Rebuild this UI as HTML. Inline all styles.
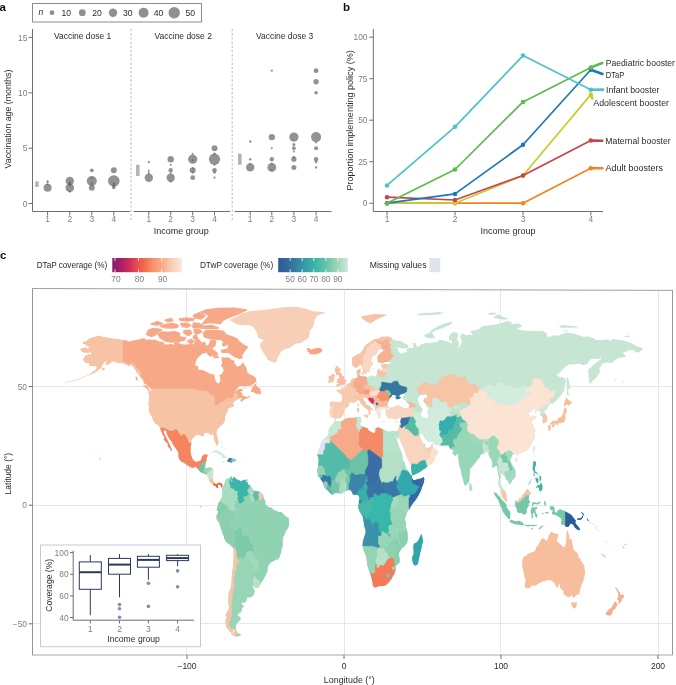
<!DOCTYPE html>
<html lang="en"><head><meta charset="utf-8"><title>Figure</title>
<style>
html,body{margin:0;padding:0;background:#fff;}
body{width:676px;height:685px;overflow:hidden;}
svg{display:block;font-family:"Liberation Sans", Arial, Helvetica, sans-serif;}
.t{font-size:8.4px;fill:#7e7e7e;}
.l{font-size:8.6px;fill:#2b2b2b;}
.pl{font-size:11.5px;font-weight:bold;fill:#111;}
.pt{fill:#5e5e5e;fill-opacity:0.68;}
</style></head><body>
<svg width="676" height="685" viewBox="0 0 676 685">
<rect width="676" height="685" fill="#fff"/>

<g id="panel-a">
<text class="pl" x="-0.5" y="10.5">a</text>
<rect x="32.5" y="3.5" width="169" height="18.5" fill="#fff" stroke="#8c8c8c" stroke-width="1"/>
<text class="l" x="38.5" y="15.4" font-style="italic">n</text>
<circle cx="52" cy="12.7" r="2.4" fill="#909090"/>
<text class="l" x="61.5" y="15.6">10</text>
<circle cx="82.3" cy="12.7" r="3.4" fill="#909090"/>
<text class="l" x="92.2" y="15.6">20</text>
<circle cx="113" cy="12.7" r="4.2" fill="#909090"/>
<text class="l" x="123" y="15.6">30</text>
<circle cx="143.6" cy="12.7" r="5.0" fill="#909090"/>
<text class="l" x="153.8" y="15.6">40</text>
<circle cx="174.2" cy="12.7" r="5.7" fill="#909090"/>
<text class="l" x="185.5" y="15.6">50</text>
<path d="M32.5 29V211.5H130" fill="none" stroke="#6e6e6e" stroke-width="1"/>
<path d="M133.5 211.5H230.2M234.7 211.5H331.5" fill="none" stroke="#6e6e6e" stroke-width="1"/>
<path d="M28.5 203.5H32.5" stroke="#6e6e6e" stroke-width="1"/>
<text class="t" x="27.3" y="206.6" text-anchor="end">0</text>
<path d="M28.5 148.2H32.5" stroke="#6e6e6e" stroke-width="1"/>
<text class="t" x="27.3" y="151.2" text-anchor="end">5</text>
<path d="M28.5 92.8H32.5" stroke="#6e6e6e" stroke-width="1"/>
<text class="t" x="27.3" y="95.8" text-anchor="end">10</text>
<path d="M28.5 37.4H32.5" stroke="#6e6e6e" stroke-width="1"/>
<text class="t" x="27.3" y="40.5" text-anchor="end">15</text>
<path d="M131 29V222" stroke="#b0b0b0" stroke-width="0.9" stroke-dasharray="2.2 2"/>
<path d="M232.2 29V222" stroke="#b0b0b0" stroke-width="0.9" stroke-dasharray="2.2 2"/>
<path d="M47.6 211.5V215.5" stroke="#6e6e6e" stroke-width="1"/>
<text class="t" x="47.6" y="222.3" text-anchor="middle">1</text>
<path d="M69.8 211.5V215.5" stroke="#6e6e6e" stroke-width="1"/>
<text class="t" x="69.8" y="222.3" text-anchor="middle">2</text>
<path d="M91.8 211.5V215.5" stroke="#6e6e6e" stroke-width="1"/>
<text class="t" x="91.8" y="222.3" text-anchor="middle">3</text>
<path d="M113.8 211.5V215.5" stroke="#6e6e6e" stroke-width="1"/>
<text class="t" x="113.8" y="222.3" text-anchor="middle">4</text>
<path d="M148.8 211.5V215.5" stroke="#6e6e6e" stroke-width="1"/>
<text class="t" x="148.8" y="222.3" text-anchor="middle">1</text>
<path d="M170.7 211.5V215.5" stroke="#6e6e6e" stroke-width="1"/>
<text class="t" x="170.7" y="222.3" text-anchor="middle">2</text>
<path d="M192.7 211.5V215.5" stroke="#6e6e6e" stroke-width="1"/>
<text class="t" x="192.7" y="222.3" text-anchor="middle">3</text>
<path d="M214.5 211.5V215.5" stroke="#6e6e6e" stroke-width="1"/>
<text class="t" x="214.5" y="222.3" text-anchor="middle">4</text>
<path d="M250.2 211.5V215.5" stroke="#6e6e6e" stroke-width="1"/>
<text class="t" x="250.2" y="222.3" text-anchor="middle">1</text>
<path d="M271.8 211.5V215.5" stroke="#6e6e6e" stroke-width="1"/>
<text class="t" x="271.8" y="222.3" text-anchor="middle">2</text>
<path d="M293.9 211.5V215.5" stroke="#6e6e6e" stroke-width="1"/>
<text class="t" x="293.9" y="222.3" text-anchor="middle">3</text>
<path d="M316.1 211.5V215.5" stroke="#6e6e6e" stroke-width="1"/>
<text class="t" x="316.1" y="222.3" text-anchor="middle">4</text>
<text class="l" x="82.6" y="38.8" text-anchor="middle" textLength="57.3" lengthAdjust="spacingAndGlyphs">Vaccine dose 1</text>
<text class="l" x="183.2" y="38.8" text-anchor="middle" textLength="57.3" lengthAdjust="spacingAndGlyphs">Vaccine dose 2</text>
<text class="l" x="284.6" y="38.8" text-anchor="middle" textLength="57.3" lengthAdjust="spacingAndGlyphs">Vaccine dose 3</text>
<text class="l" x="181.3" y="233.8" text-anchor="middle" textLength="55" lengthAdjust="spacingAndGlyphs">Income group</text>
<text class="l" transform="translate(11.3 119) rotate(-90)" text-anchor="middle" textLength="98.8" lengthAdjust="spacingAndGlyphs">Vaccination age (months)</text>
<rect x="35.2" y="181.4" width="3.5" height="5.5" fill="#b4b4b4"/>
<rect x="136" y="164.8" width="3.6" height="11.1" fill="#b4b4b4"/>
<rect x="238" y="153.7" width="3.6" height="11.1" fill="#b4b4b4"/>
<circle class="pt" cx="47.6" cy="187.7" r="4.0"/>
<circle class="pt" cx="47.6" cy="181.4" r="1.2"/>
<circle class="pt" cx="47.6" cy="184.1" r="0.9"/>
<circle class="pt" cx="47.6" cy="182.5" r="0.8"/>
<circle class="pt" cx="69.8" cy="181.0" r="4.2"/>
<circle class="pt" cx="69.8" cy="187.7" r="4.3"/>
<circle class="pt" cx="69.8" cy="191.7" r="1.0"/>
<circle class="pt" cx="69.8" cy="183.0" r="1.5"/>
<circle class="pt" cx="69.8" cy="185.2" r="1.0"/>
<circle class="pt" cx="91.8" cy="170.3" r="1.9"/>
<circle class="pt" cx="91.8" cy="181.0" r="5.0"/>
<circle class="pt" cx="91.8" cy="187.7" r="3.0"/>
<circle class="pt" cx="91.8" cy="178.0" r="0.9"/>
<circle class="pt" cx="91.8" cy="183.0" r="0.9"/>
<circle class="pt" cx="91.8" cy="185.2" r="0.9"/>
<circle class="pt" cx="113.8" cy="170.3" r="3.0"/>
<circle class="pt" cx="113.8" cy="181.0" r="5.8"/>
<circle class="pt" cx="113.8" cy="187.4" r="1.8"/>
<circle class="pt" cx="113.8" cy="183.6" r="1.2"/>
<circle class="pt" cx="113.8" cy="185.2" r="1.2"/>
<circle class="pt" cx="148.8" cy="177.7" r="4.2"/>
<circle class="pt" cx="148.8" cy="162.1" r="1.2"/>
<circle class="pt" cx="148.8" cy="170.3" r="0.9"/>
<circle class="pt" cx="148.8" cy="172.0" r="0.9"/>
<circle class="pt" cx="148.8" cy="173.6" r="0.9"/>
<circle class="pt" cx="170.7" cy="159.2" r="3.2"/>
<circle class="pt" cx="170.7" cy="164.8" r="1.0"/>
<circle class="pt" cx="170.7" cy="170.3" r="2.2"/>
<circle class="pt" cx="170.7" cy="177.7" r="4.2"/>
<circle class="pt" cx="170.7" cy="181.4" r="1.0"/>
<circle class="pt" cx="170.7" cy="173.1" r="0.9"/>
<circle class="pt" cx="192.7" cy="153.7" r="1.0"/>
<circle class="pt" cx="192.7" cy="159.2" r="4.6"/>
<circle class="pt" cx="192.7" cy="170.3" r="3.0"/>
<circle class="pt" cx="192.7" cy="177.7" r="2.4"/>
<circle class="pt" cx="192.7" cy="160.3" r="1.1"/>
<circle class="pt" cx="192.7" cy="168.1" r="0.9"/>
<circle class="pt" cx="192.7" cy="172.5" r="0.9"/>
<circle class="pt" cx="214.5" cy="148.2" r="3.0"/>
<circle class="pt" cx="214.5" cy="159.2" r="5.6"/>
<circle class="pt" cx="214.5" cy="170.3" r="2.3"/>
<circle class="pt" cx="214.5" cy="172.5" r="1.2"/>
<circle class="pt" cx="214.5" cy="177.7" r="1.1"/>
<circle class="pt" cx="214.5" cy="153.7" r="1.2"/>
<circle class="pt" cx="214.5" cy="164.8" r="1.0"/>
<circle class="pt" cx="250.2" cy="167.4" r="4.2"/>
<circle class="pt" cx="250.2" cy="159.2" r="1.2"/>
<circle class="pt" cx="250.2" cy="141.5" r="1.2"/>
<circle class="pt" cx="250.2" cy="163.6" r="0.9"/>
<circle class="pt" cx="271.8" cy="70.7" r="1.1"/>
<circle class="pt" cx="271.8" cy="137.1" r="3.2"/>
<circle class="pt" cx="271.8" cy="148.2" r="1.0"/>
<circle class="pt" cx="271.8" cy="159.2" r="2.2"/>
<circle class="pt" cx="271.8" cy="167.4" r="4.4"/>
<circle class="pt" cx="271.8" cy="170.3" r="1.0"/>
<circle class="pt" cx="271.8" cy="163.6" r="0.9"/>
<circle class="pt" cx="293.9" cy="137.1" r="4.6"/>
<circle class="pt" cx="293.9" cy="144.5" r="1.5"/>
<circle class="pt" cx="293.9" cy="148.2" r="1.9"/>
<circle class="pt" cx="293.9" cy="151.5" r="1.1"/>
<circle class="pt" cx="293.9" cy="157.0" r="1.1"/>
<circle class="pt" cx="293.9" cy="159.2" r="2.6"/>
<circle class="pt" cx="293.9" cy="167.4" r="2.5"/>
<circle class="pt" cx="316.1" cy="70.7" r="2.4"/>
<circle class="pt" cx="316.1" cy="81.7" r="2.7"/>
<circle class="pt" cx="316.1" cy="92.8" r="1.8"/>
<circle class="pt" cx="316.1" cy="137.1" r="5.0"/>
<circle class="pt" cx="316.1" cy="142.6" r="1.0"/>
<circle class="pt" cx="316.1" cy="148.2" r="2.0"/>
<circle class="pt" cx="316.1" cy="159.2" r="2.2"/>
<circle class="pt" cx="316.1" cy="162.0" r="1.3"/>
<circle class="pt" cx="316.1" cy="167.4" r="1.2"/>
</g>
<g id="panel-b">
<text class="pl" x="343" y="10.5">b</text>
<path d="M373.3 29V211.5H603" fill="none" stroke="#6e6e6e" stroke-width="1"/>
<path d="M369.3 203.2H373.3" stroke="#6e6e6e" stroke-width="1"/>
<text class="t" x="367.5" y="206.2" text-anchor="end">0</text>
<path d="M369.3 161.7H373.3" stroke="#6e6e6e" stroke-width="1"/>
<text class="t" x="367.5" y="164.8" text-anchor="end">25</text>
<path d="M369.3 120.2H373.3" stroke="#6e6e6e" stroke-width="1"/>
<text class="t" x="367.5" y="123.2" text-anchor="end">50</text>
<path d="M369.3 78.7H373.3" stroke="#6e6e6e" stroke-width="1"/>
<text class="t" x="367.5" y="81.7" text-anchor="end">75</text>
<path d="M369.3 37.2H373.3" stroke="#6e6e6e" stroke-width="1"/>
<text class="t" x="367.5" y="40.2" text-anchor="end">100</text>
<path d="M387 211.5V215.5" stroke="#6e6e6e" stroke-width="1"/>
<text class="t" x="387" y="222.3" text-anchor="middle">1</text>
<path d="M455 211.5V215.5" stroke="#6e6e6e" stroke-width="1"/>
<text class="t" x="455" y="222.3" text-anchor="middle">2</text>
<path d="M523 211.5V215.5" stroke="#6e6e6e" stroke-width="1"/>
<text class="t" x="523" y="222.3" text-anchor="middle">3</text>
<path d="M590.8 211.5V215.5" stroke="#6e6e6e" stroke-width="1"/>
<text class="t" x="590.8" y="222.3" text-anchor="middle">4</text>
<text class="l" x="508" y="233.8" text-anchor="middle" textLength="55" lengthAdjust="spacingAndGlyphs">Income group</text>
<text class="l" transform="translate(352.8 120.4) rotate(-90)" text-anchor="middle" textLength="140.3" lengthAdjust="spacingAndGlyphs">Proportion implementing policy (%)</text>
<path d="M387 203.2L455 203.2L523 203.2L590.8 168.3" fill="none" stroke="#f58220" stroke-width="1.7" stroke-linejoin="round"/>
<circle cx="387" cy="203.2" r="2.25" fill="#f58220"/>
<circle cx="455" cy="203.2" r="2.25" fill="#f58220"/>
<circle cx="523" cy="203.2" r="2.25" fill="#f58220"/>
<circle cx="590.8" cy="168.3" r="2.25" fill="#f58220"/>
<path d="M590.8 168.3L602.3 168.3" stroke="#f58220" stroke-width="2.6" stroke-linecap="round"/>
<text class="l" x="605.5" y="171.2" textLength="57.5" lengthAdjust="spacingAndGlyphs">Adult boosters</text>
<path d="M387 203.2L455 203.2L523 175.5L590.8 94.6" fill="none" stroke="#c9c930" stroke-width="1.7" stroke-linejoin="round"/>
<circle cx="387" cy="203.2" r="2.25" fill="#c9c930"/>
<circle cx="455" cy="203.2" r="2.25" fill="#c9c930"/>
<circle cx="523" cy="175.5" r="2.25" fill="#c9c930"/>
<circle cx="590.8" cy="94.6" r="2.25" fill="#c9c930"/>
<path d="M590.8 94.6L592.4 98.6" stroke="#c9c930" stroke-width="2.6" stroke-linecap="round"/>
<text class="l" x="593.3" y="106" textLength="75.7" lengthAdjust="spacingAndGlyphs">Adolescent booster</text>
<path d="M387 197.2L455 200.0L523 175.5L590.8 140.6" fill="none" stroke="#c8434c" stroke-width="1.7" stroke-linejoin="round"/>
<circle cx="387" cy="197.2" r="2.25" fill="#c8434c"/>
<circle cx="455" cy="200.0" r="2.25" fill="#c8434c"/>
<circle cx="523" cy="175.5" r="2.25" fill="#c8434c"/>
<circle cx="590.8" cy="140.6" r="2.25" fill="#c8434c"/>
<path d="M590.8 140.6L602.3 140.7" stroke="#c8434c" stroke-width="2.6" stroke-linecap="round"/>
<text class="l" x="605.3" y="144" textLength="65.4" lengthAdjust="spacingAndGlyphs">Maternal booster</text>
<path d="M387 203.2L455 193.9L523 144.8L590.8 69.7" fill="none" stroke="#1a78ba" stroke-width="1.7" stroke-linejoin="round"/>
<circle cx="387" cy="203.2" r="2.25" fill="#1a78ba"/>
<circle cx="455" cy="193.9" r="2.25" fill="#1a78ba"/>
<circle cx="523" cy="144.8" r="2.25" fill="#1a78ba"/>
<circle cx="590.8" cy="69.7" r="2.25" fill="#1a78ba"/>
<path d="M590.8 69.7L602.5 74" stroke="#1a78ba" stroke-width="2.6" stroke-linecap="round"/>
<text class="l" x="605.8" y="78.2" textLength="18.4" lengthAdjust="spacingAndGlyphs">DTaP</text>
<path d="M387 203.2L455 169.5L523 101.9L590.8 67.4" fill="none" stroke="#5dbb4d" stroke-width="1.7" stroke-linejoin="round"/>
<circle cx="387" cy="203.2" r="2.25" fill="#5dbb4d"/>
<circle cx="455" cy="169.5" r="2.25" fill="#5dbb4d"/>
<circle cx="523" cy="101.9" r="2.25" fill="#5dbb4d"/>
<circle cx="590.8" cy="67.4" r="2.25" fill="#5dbb4d"/>
<path d="M590.8 67.4L602.3 63" stroke="#5dbb4d" stroke-width="2.6" stroke-linecap="round"/>
<text class="l" x="605.8" y="65.8" textLength="69.2" lengthAdjust="spacingAndGlyphs">Paediatric booster</text>
<path d="M387 185.4L455 126.8L523 55.6L590.8 89.8" fill="none" stroke="#4cc3c7" stroke-width="1.7" stroke-linejoin="round"/>
<circle cx="387" cy="185.4" r="2.25" fill="#4cc3c7"/>
<circle cx="455" cy="126.8" r="2.25" fill="#4cc3c7"/>
<circle cx="523" cy="55.6" r="2.25" fill="#4cc3c7"/>
<circle cx="590.8" cy="89.8" r="2.25" fill="#4cc3c7"/>
<path d="M590.8 89.8L603 89.6" stroke="#4cc3c7" stroke-width="2.6" stroke-linecap="round"/>
<text class="l" x="606" y="92.7" textLength="53.4" lengthAdjust="spacingAndGlyphs">Infant booster</text>
</g>
<g id="panel-c">
<text class="pl" x="0" y="258.5">c</text>
<defs>
<linearGradient id="gA" x1="0" x2="1" y1="0" y2="0">
<stop offset="0" stop-color="#8a1a6c"/><stop offset="0.12" stop-color="#a81d68"/><stop offset="0.25" stop-color="#d02f5c"/><stop offset="0.36" stop-color="#ec4d4a"/><stop offset="0.45" stop-color="#f2694a"/><stop offset="0.6" stop-color="#f6966f"/><stop offset="0.72" stop-color="#f8ad8a"/><stop offset="0.88" stop-color="#fad2bc"/><stop offset="1" stop-color="#fce9dd"/>
</linearGradient>
<linearGradient id="gW" x1="0" x2="1" y1="0" y2="0">
<stop offset="0" stop-color="#2c5a9a"/><stop offset="0.18" stop-color="#34709e"/><stop offset="0.36" stop-color="#3596a8"/><stop offset="0.52" stop-color="#38b4aa"/><stop offset="0.68" stop-color="#62c2a6"/><stop offset="0.84" stop-color="#9ad6b8"/><stop offset="1" stop-color="#cbe8d6"/>
</linearGradient>
</defs>
<text class="l" x="36.7" y="268.3" textLength="70.5" lengthAdjust="spacingAndGlyphs">DTaP coverage (%)</text>
<rect x="112.3" y="258" width="69.7" height="14.2" fill="url(#gA)"/>
<path d="M115 258v3M115 269.2v3" stroke="#fff" stroke-width="0.8"/>
<text class="t" x="116" y="281.8" text-anchor="middle">70</text>
<path d="M138.5 258v3M138.5 269.2v3" stroke="#fff" stroke-width="0.8"/>
<text class="t" x="139.5" y="281.8" text-anchor="middle">80</text>
<path d="M161.6 258v3M161.6 269.2v3" stroke="#fff" stroke-width="0.8"/>
<text class="t" x="162.6" y="281.8" text-anchor="middle">90</text>
<text class="l" x="199.9" y="268.3" textLength="73.3" lengthAdjust="spacingAndGlyphs">DTwP coverage (%)</text>
<rect x="278.2" y="258" width="69.6" height="14.2" fill="url(#gW)"/>
<path d="M290.2 258v3M290.2 269.2v3" stroke="#fff" stroke-width="0.8"/>
<text class="t" x="290.2" y="281.8" text-anchor="middle">50</text>
<path d="M302.2 258v3M302.2 269.2v3" stroke="#fff" stroke-width="0.8"/>
<text class="t" x="302.2" y="281.8" text-anchor="middle">60</text>
<path d="M313.8 258v3M313.8 269.2v3" stroke="#fff" stroke-width="0.8"/>
<text class="t" x="313.8" y="281.8" text-anchor="middle">70</text>
<path d="M325.8 258v3M325.8 269.2v3" stroke="#fff" stroke-width="0.8"/>
<text class="t" x="325.8" y="281.8" text-anchor="middle">80</text>
<path d="M337.8 258v3M337.8 269.2v3" stroke="#fff" stroke-width="0.8"/>
<text class="t" x="337.8" y="281.8" text-anchor="middle">90</text>
<text class="l" x="369.7" y="268.3" textLength="56.8" lengthAdjust="spacingAndGlyphs">Missing values</text>
<rect x="429.4" y="258" width="10.8" height="14.2" fill="#dfe3ee"/>
<rect x="32.5" y="289.5" width="640.0" height="365.5" fill="#fff"/>
<path d="M186.5 289.5V655" stroke="#dde1ea" stroke-width="0.8"/>
<path d="M344.5 289.5V655" stroke="#dde1ea" stroke-width="0.8"/>
<path d="M500.5 289.5V655" stroke="#dde1ea" stroke-width="0.8"/>
<path d="M658.5 289.5V655" stroke="#dde1ea" stroke-width="0.8"/>
<path d="M32.5 386.5H672.5" stroke="#dde1ea" stroke-width="0.8"/>
<path d="M32.5 505.5H672.5" stroke="#dde1ea" stroke-width="0.8"/>
<path d="M32.5 623.5H672.5" stroke="#dde1ea" stroke-width="0.8"/>
<g id="map" shape-rendering="geometricPrecision">
<defs>
<clipPath id="c_namerica"><path d="M85.3 375.7L89.7 374.5L92.0 372.4L95.2 370.5L96.7 368.8L96.7 366.0L94.4 366.2L92.3 365.5L89.7 366.2L89.5 363.1L86.2 363.1L84.3 361.5L83.2 359.1L84.9 356.7L85.6 355.5L88.6 354.6L91.2 354.6L91.5 352.0L88.6 352.4L84.9 352.4L82.8 352.0L80.1 349.6L82.9 348.2L85.7 347.5L87.0 348.4L90.1 348.2L88.9 346.5L86.8 345.8L85.7 344.6L83.1 343.4L82.9 341.8L86.0 341.8L88.1 340.1L89.8 338.4L94.4 337.3L98.1 335.8L100.6 336.6L104.9 337.3L108.5 338.0L113.2 338.7L117.9 339.2L122.6 340.1L125.8 340.3L129.7 341.8L132.0 340.6L135.2 340.3L138.3 339.4L141.5 338.9L143.0 338.0L144.6 338.4L147.8 340.3L148.7 338.9L150.9 339.9L154.0 339.6L160.3 341.8L163.4 341.8L165.0 343.2L163.0 344.1L166.6 344.6L171.3 344.1L174.4 345.1L173.7 342.7L177.6 342.0L180.7 343.9L183.9 344.4L188.6 344.4L190.1 342.7L192.8 343.4L193.3 345.6L194.1 342.7L195.6 340.3L192.5 338.0L193.3 335.6L194.8 334.4L197.2 335.6L198.8 339.2L200.3 340.3L201.9 342.7L204.3 341.5L205.8 343.2L205.8 345.6L208.2 345.1L209.8 342.0L210.5 339.6L214.5 339.9L216.4 341.3L216.0 343.9L215.3 346.3L212.9 347.9L209.0 348.6L208.2 351.0L205.8 352.9L202.7 353.6L199.6 356.2L197.2 358.6L195.6 362.4L195.3 365.7L198.0 366.0L198.8 370.0L202.7 370.0L205.8 371.4L210.5 374.0L214.5 374.5L214.9 379.0L216.0 381.4L217.6 383.5L219.2 383.0L220.3 380.7L220.0 377.1L219.2 375.5L222.3 373.6L223.7 370.5L222.8 367.6L220.8 365.7L222.3 362.9L221.5 359.3L221.5 357.2L225.5 357.4L228.6 357.2L231.7 360.0L234.1 360.5L234.9 364.1L237.2 366.4L240.4 365.7L241.9 363.4L242.7 362.2L245.1 365.7L246.7 368.8L247.4 372.4L249.8 374.3L253.7 375.9L256.1 378.3L256.4 381.1L254.5 383.0L251.4 385.4L248.2 386.1L243.5 385.9L239.6 386.1L237.2 388.5L234.1 392.5L232.5 394.2L234.9 391.8L238.8 389.0L242.7 388.7L242.7 390.9L240.4 391.3L241.9 393.0L242.7 395.6L245.1 396.6L247.4 397.0L249.8 395.6L249.8 396.8L247.4 398.2L244.3 399.4L241.2 401.8L240.1 400.1L242.7 397.5L240.4 398.0L238.5 398.9L236.5 400.1L234.1 401.3L233.0 403.7L234.1 406.1L231.7 407.0L228.6 408.2L227.8 409.1L227.5 411.5L226.2 413.2L225.5 415.1L224.7 417.4L225.0 419.8L223.9 422.7L221.9 424.6L220.0 426.2L217.6 428.8L216.4 431.7L216.4 434.5L217.6 438.3L218.4 441.6L217.9 445.2L216.7 445.4L215.6 443.1L214.2 439.5L214.2 436.6L212.6 434.0L210.5 434.8L208.2 433.1L205.8 433.1L203.5 433.6L203.8 436.2L201.9 435.9L199.9 435.0L197.2 434.5L195.2 435.7L193.0 437.8L191.2 440.0L191.4 443.5L190.6 447.1L190.5 451.8L191.2 455.4L192.5 458.9L193.6 460.6L195.6 462.0L198.0 461.6L199.9 461.1L201.4 459.4L202.1 455.9L204.3 454.7L206.6 454.2L207.7 455.4L206.6 458.2L206.2 461.8L205.4 463.7L205.4 466.1L204.4 467.5L205.8 468.0L208.2 467.7L210.5 467.5L212.9 468.9L213.4 470.8L212.9 474.4L212.6 477.9L212.6 479.6L213.7 481.5L214.8 483.4L216.0 484.3L217.6 483.6L219.2 482.4L220.8 482.9L222.5 484.6L221.7 488.1L220.9 486.0L219.2 484.1L217.8 485.5L218.4 487.4L216.8 487.9L215.7 486.0L213.8 485.5L212.7 484.6L211.0 482.4L209.5 481.7L209.3 479.3L208.2 477.4L206.6 474.6L205.1 473.9L203.0 473.2L200.3 472.0L199.1 470.6L196.7 467.5L195.2 466.8L192.5 468.0L189.4 466.5L187.0 464.9L184.2 462.7L181.5 461.8L179.2 458.9L178.4 456.6L178.7 454.2L177.6 451.1L175.2 447.6L172.9 444.5L172.1 441.9L170.5 440.0L168.2 436.9L166.6 432.9L166.3 431.0L163.9 430.0L163.9 432.9L165.8 436.4L167.1 439.3L168.2 441.6L169.7 444.7L170.8 447.6L172.1 450.2L171.3 450.9L169.7 448.3L167.8 446.4L167.7 443.5L165.3 441.4L163.8 439.3L164.7 437.4L162.7 434.8L161.4 431.7L160.2 428.1L158.1 425.0L156.4 423.8L154.7 423.1L152.8 419.1L151.8 416.2L149.8 412.7L148.8 409.4L149.2 405.6L148.5 403.2L149.3 398.9L149.3 395.6L148.2 390.6L150.9 390.9L151.7 392.5L151.2 389.0L149.3 387.3L147.0 385.4L143.8 383.0L143.0 380.0L140.7 377.6L139.4 375.2L137.5 373.6L136.0 370.7L133.6 367.1L131.3 364.5L128.9 366.0L126.6 364.8L124.2 363.6L121.1 362.9L117.9 362.9L114.8 361.5L111.6 361.0L110.9 363.1L108.5 364.3L105.7 364.8L106.1 361.7L108.5 360.0L106.1 360.5L103.8 362.9L102.2 364.8L101.9 367.1L99.1 369.3L95.9 371.7L92.8 373.3L89.7 375.0Z"/></clipPath>
<clipPath id="c_samerica"><path d="M222.5 484.6L223.4 486.2L224.7 482.9L225.5 479.8L226.6 478.9L228.6 478.4L230.6 477.0L231.7 475.8L232.1 477.4L231.3 479.6L231.7 482.7L232.5 481.5L231.7 479.1L233.3 478.2L234.1 476.3L234.9 477.9L236.8 479.3L238.8 480.3L241.2 481.2L243.0 480.3L245.1 479.8L246.8 479.8L245.6 481.0L247.4 482.2L248.5 485.0L250.6 485.7L252.2 488.6L253.7 490.5L256.1 491.2L259.2 491.4L261.6 493.3L263.1 495.0L263.9 498.1L265.5 501.2L265.5 504.0L267.1 505.7L268.3 507.1L271.0 507.6L274.1 509.9L276.5 511.1L278.8 512.1L281.2 511.8L283.6 514.0L285.9 516.6L288.6 517.8L289.2 521.8L289.1 525.4L287.8 528.4L285.9 531.3L284.3 535.6L282.9 537.2L282.8 542.0L282.8 546.7L281.7 549.1L281.2 552.6L279.6 556.9L278.1 559.5L275.7 559.8L273.4 561.2L271.0 562.6L268.6 565.2L267.7 568.1L267.5 572.1L265.5 575.6L263.9 578.7L262.0 581.6L260.0 585.4L258.4 587.5L256.1 588.0L253.3 586.8L252.3 584.7L252.2 587.0L254.2 589.4L254.5 591.8L253.4 595.3L250.6 597.2L246.7 597.5L246.2 601.3L244.3 602.7L241.9 602.0L241.9 604.8L244.0 606.0L241.6 608.4L241.2 611.9L238.3 613.8L238.0 615.5L240.4 617.4L240.4 619.5L237.7 622.6L236.0 625.0L235.4 627.4L236.5 629.3L234.9 629.7L232.8 630.4L232.1 632.6L230.2 632.1L228.6 629.7L226.6 627.4L225.8 623.8L225.5 620.2L227.0 616.7L225.5 615.5L227.0 611.9L228.6 609.6L229.4 606.0L228.1 603.6L228.6 598.9L228.6 594.1L229.7 590.6L231.0 587.0L231.6 583.5L231.7 578.7L231.9 575.2L232.5 570.4L233.3 565.7L233.5 560.9L233.8 556.2L233.6 550.3L233.5 548.6L231.7 546.2L229.4 544.3L226.2 542.0L224.2 538.4L223.9 536.0L222.6 533.7L221.5 530.1L220.3 526.1L218.7 521.8L216.8 519.4L216.4 515.9L217.9 513.3L218.4 511.1L216.8 510.4L217.1 507.6L218.2 505.2L218.4 503.1L220.0 501.6L220.8 499.3L222.3 496.9L222.6 493.3L222.3 489.8L221.7 488.1Z"/></clipPath>
<clipPath id="c_tdf"><path d="M236.3 630.2L236.8 631.6L238.0 633.3L241.6 634.9L239.6 635.9L236.5 636.4L234.1 636.1L231.7 634.5L231.0 633.3L233.3 632.8L234.1 630.9Z"/></clipPath>
<clipPath id="c_eurasia"><path clip-rule="evenodd" d="M335.2 419.8L334.1 418.6L332.4 417.0L330.0 417.4L330.2 413.9L329.1 413.4L329.9 410.3L330.3 406.8L330.0 404.4L329.4 403.0L331.4 401.5L334.6 401.8L338.0 402.0L341.2 402.3L342.0 399.6L342.3 396.6L340.9 394.2L340.1 393.0L337.2 391.8L336.6 390.4L339.3 389.4L341.5 389.9L341.2 387.3L342.1 388.0L344.3 387.8L346.4 386.4L346.5 384.5L347.9 384.0L349.5 383.3L350.6 381.9L351.4 379.5L352.6 378.5L355.0 378.5L357.0 377.8L357.7 376.9L357.5 374.7L356.7 373.3L356.9 370.5L358.9 369.5L360.5 368.3L360.2 370.9L361.0 371.7L360.0 372.8L359.2 374.3L359.7 375.5L361.3 376.2L363.3 376.4L365.2 375.9L366.5 377.3L369.1 376.4L372.3 375.2L373.5 376.2L375.1 376.2L377.0 374.3L377.0 371.7L377.4 369.5L379.3 368.3L380.6 370.0L382.2 369.5L382.3 366.9L380.9 366.0L380.9 364.8L384.0 364.1L388.0 364.1L391.1 363.1L388.7 361.7L385.6 361.9L382.5 362.9L380.0 363.1L377.8 361.5L377.6 358.6L377.3 356.2L379.3 354.1L382.5 351.5L383.9 350.3L382.0 349.1L379.0 349.4L377.6 351.5L376.7 353.9L373.0 356.2L371.3 358.8L371.0 361.2L373.2 362.9L372.3 365.5L370.2 367.1L369.9 370.0L369.1 371.9L366.8 372.1L366.3 373.8L364.3 373.8L363.6 371.7L362.5 368.8L361.6 365.7L360.6 364.5L358.9 365.5L356.9 367.4L354.8 367.6L352.8 365.7L351.9 362.9L351.9 359.3L352.3 357.7L354.7 356.0L357.3 354.6L359.7 353.4L362.1 351.0L363.6 348.6L365.2 345.8L367.2 343.9L369.9 342.2L372.3 340.3L374.6 339.2L378.5 338.4L381.7 336.8L384.8 336.8L388.0 336.6L391.1 337.7L392.7 338.7L391.1 339.6L394.2 339.9L396.6 340.6L400.5 341.1L404.4 343.2L408.4 345.6L408.4 347.7L404.4 348.6L399.7 347.7L395.8 347.0L398.2 349.1L398.6 352.2L401.3 353.4L402.9 353.6L403.7 352.4L406.8 352.0L406.8 349.1L409.9 347.7L413.1 348.2L413.4 345.6L412.8 343.0L416.2 343.2L416.2 346.3L418.6 346.5L420.9 344.4L425.6 343.0L428.8 343.2L434.3 342.2L438.2 341.8L439.0 339.6L444.5 340.8L449.2 342.0L451.5 343.4L452.3 341.5L449.2 339.9L448.9 336.8L451.5 333.2L453.1 332.0L457.0 332.5L458.3 335.6L457.0 339.2L458.3 342.0L459.4 344.4L457.0 347.9L460.2 346.3L461.4 342.7L461.8 340.3L460.2 336.8L461.8 333.2L464.9 334.4L466.5 335.6L469.6 334.4L472.7 335.6L470.4 330.9L475.9 330.1L480.6 328.5L480.6 326.8L486.9 325.6L493.1 324.9L499.4 323.7L507.3 320.9L512.0 322.6L510.4 324.2L518.3 323.3L522.2 326.1L516.7 329.0L520.6 330.1L523.0 330.6L529.3 330.9L537.1 331.3L542.6 330.9L546.5 333.2L547.3 336.8L550.5 336.8L552.8 335.4L559.1 335.6L563.8 333.2L566.9 332.8L573.2 333.5L579.5 335.4L583.4 336.8L588.9 336.6L594.4 338.7L596.0 340.1L601.5 339.9L607.8 339.4L611.7 341.5L610.9 338.9L615.6 339.4L620.3 339.9L626.6 341.5L631.3 343.0L636.0 345.8L639.9 347.2L642.8 348.6L642.6 349.8L639.2 352.2L636.0 352.4L632.9 349.8L628.2 350.5L625.0 352.2L622.7 351.7L625.8 356.9L621.9 357.4L617.2 358.6L611.7 362.9L606.2 362.4L602.3 363.4L600.7 366.4L599.1 368.1L600.2 371.9L598.3 374.7L595.2 379.0L592.5 380.7L590.0 384.2L588.9 380.7L588.4 374.7L588.1 370.0L590.5 367.6L594.4 364.1L597.6 361.7L600.7 359.3L601.5 356.9L598.3 359.3L595.2 358.6L590.5 359.3L587.4 364.1L582.6 365.3L579.5 363.8L573.2 364.5L568.5 364.5L563.8 368.3L559.9 372.4L556.4 375.2L559.9 377.1L562.2 376.9L565.4 379.0L565.8 381.9L564.6 385.4L564.3 390.2L561.4 394.4L558.3 398.5L555.2 401.8L552.8 403.7L550.5 403.2L549.2 404.9L547.8 406.8L547.3 409.1L544.3 411.0L544.0 412.2L545.6 413.9L547.2 417.4L547.2 420.8L545.7 422.2L542.8 423.6L542.4 420.8L542.9 417.9L542.1 415.8L540.6 415.5L540.2 413.6L540.7 411.5L539.2 410.6L536.3 411.5L534.4 413.2L535.5 409.4L534.0 408.2L531.6 410.8L529.3 412.2L528.8 414.4L530.8 416.5L533.5 415.5L536.3 416.5L536.2 417.9L533.2 419.8L531.1 422.2L532.7 424.1L533.7 427.4L535.2 429.8L535.2 431.9L533.7 433.3L535.2 434.5L534.8 437.6L533.2 440.7L531.8 444.0L530.0 446.8L528.0 449.5L525.8 451.1L523.3 452.3L521.4 453.0L519.1 454.2L517.2 454.9L517.0 457.0L516.2 454.2L514.3 453.7L512.0 455.4L511.2 457.8L510.1 460.1L511.2 463.0L513.2 466.5L515.0 469.1L515.6 473.2L515.4 476.7L513.6 479.3L512.0 480.5L511.4 482.4L509.2 484.6L508.5 482.0L507.9 480.5L506.5 480.1L505.7 478.2L504.6 476.3L502.6 475.1L502.4 473.4L501.2 473.4L500.8 476.7L499.9 479.6L499.9 483.1L501.5 485.5L501.8 488.1L503.7 489.3L505.4 492.2L506.3 494.5L506.5 498.1L507.4 501.6L506.5 502.1L504.6 500.2L503.0 498.3L501.8 495.2L501.5 491.4L500.5 489.3L499.0 486.2L498.3 483.9L498.8 480.3L499.0 476.7L498.2 473.2L497.4 469.6L497.2 466.3L495.5 465.8L493.6 467.7L492.1 467.2L492.4 463.7L491.6 460.1L490.0 457.3L488.8 455.4L488.1 452.3L486.1 451.8L484.5 453.5L482.2 453.7L480.6 454.7L480.1 457.3L478.2 458.7L475.9 462.0L473.2 465.6L471.2 467.5L469.9 469.6L469.9 473.7L469.4 477.2L469.3 480.8L468.0 483.1L466.8 484.1L465.7 486.0L464.1 483.9L463.3 480.3L462.1 476.7L461.3 473.2L460.7 469.6L459.4 466.1L458.6 461.3L458.3 457.8L458.0 454.9L457.5 453.5L455.5 455.9L453.1 454.2L452.3 452.3L454.4 450.9L452.0 449.9L450.0 448.3L448.4 445.2L445.3 445.4L442.1 445.4L439.8 445.4L436.6 445.0L434.0 444.0L433.2 441.2L430.4 441.9L428.0 441.6L425.6 439.5L423.8 436.4L422.5 433.6L420.6 433.6L419.4 434.5L420.1 437.6L421.7 440.4L422.8 442.3L423.6 445.4L424.4 443.3L425.0 445.9L424.9 447.6L427.2 448.0L429.6 447.6L431.6 444.7L432.4 443.1L432.7 446.4L434.3 448.7L436.2 449.5L437.9 451.8L436.6 455.4L435.1 456.8L434.7 460.1L432.7 462.5L430.4 464.9L428.0 465.6L425.6 468.2L422.5 469.9L420.1 472.0L417.0 473.4L414.6 474.8L412.3 475.3L411.5 472.5L411.2 469.6L411.0 466.1L409.9 463.2L408.4 460.1L406.5 456.6L405.2 453.0L404.4 449.5L402.6 446.4L401.5 443.5L399.4 438.8L398.8 435.5L398.3 438.3L397.9 439.3L396.6 437.6L395.2 434.3L394.7 431.2L397.4 431.0L398.5 429.3L398.9 426.9L400.2 423.4L400.4 420.3L400.8 418.4L398.9 418.1L397.1 419.3L395.0 419.6L392.0 417.9L390.3 419.1L388.0 418.1L386.9 416.7L385.6 413.9L386.1 411.7L385.1 410.1L387.2 409.4L389.5 409.1L389.5 407.7L392.7 407.5L396.6 405.6L399.3 405.6L401.3 407.2L404.4 407.9L407.6 407.9L409.3 406.5L409.2 404.2L406.8 402.3L404.4 399.9L402.6 398.5L402.9 397.0L404.1 395.6L405.5 393.2L402.9 393.7L400.2 394.7L398.9 396.3L401.3 397.7L399.3 398.7L396.8 399.6L395.2 397.5L396.6 396.1L394.2 395.1L392.4 394.9L390.6 397.7L389.2 399.6L388.0 402.5L387.5 404.4L388.3 406.5L389.5 407.5L387.2 408.2L385.3 409.1L384.8 408.4L382.5 408.4L381.4 409.8L379.8 409.4L380.1 412.0L381.7 414.6L380.4 415.3L380.3 418.6L378.9 418.4L377.8 416.2L377.3 414.4L375.9 411.5L374.6 409.1L374.6 406.3L373.0 404.4L370.7 402.7L368.3 400.8L367.2 398.5L365.5 398.0L365.4 396.8L363.3 397.5L363.3 399.6L365.2 401.5L366.3 404.4L369.1 405.8L371.5 407.9L373.0 409.8L372.4 410.6L370.7 409.1L370.1 411.0L370.8 412.7L369.9 414.1L369.1 415.3L368.6 414.6L368.8 411.5L367.9 410.1L366.5 408.7L364.4 407.2L362.8 405.6L360.5 403.4L360.0 401.1L357.8 399.9L355.8 401.3L353.7 403.0L351.5 402.3L349.5 402.5L348.9 404.6L349.0 406.1L347.1 407.2L345.3 408.4L344.0 410.8L343.7 413.2L342.9 415.5L341.2 417.0L340.4 417.9L337.7 418.1L335.7 419.3ZM418.6 397.3L420.9 394.9L424.9 394.2L427.2 394.4L427.2 397.7L424.5 398.0L424.1 399.9L423.0 400.1L424.4 402.7L426.4 403.9L426.7 406.8L428.5 408.4L427.2 411.5L428.5 413.9L428.5 417.4L425.6 418.1L423.0 417.0L420.9 416.0L420.8 413.9L421.4 412.0L422.8 409.6L421.7 408.7L420.5 406.1L418.7 403.4L418.6 401.3L417.5 399.6Z"/></clipPath>
<clipPath id="c_africa"><path d="M395.2 434.3L395.2 436.4L396.6 439.3L397.4 442.3L398.6 445.9L399.7 448.5L401.8 453.0L402.4 455.9L402.6 460.1L404.4 462.5L405.5 466.5L406.5 469.1L408.4 471.0L410.4 473.9L411.8 476.0L412.0 477.9L413.4 480.3L415.4 480.1L417.8 478.9L420.9 478.4L423.8 477.0L424.4 479.1L423.8 482.7L422.2 486.7L420.5 491.4L418.6 495.2L416.2 499.3L413.6 502.4L410.7 506.6L409.2 509.5L407.3 511.6L405.7 515.9L404.9 520.1L406.0 523.0L405.7 526.5L406.8 530.1L407.6 533.7L407.7 539.6L406.8 543.6L404.4 546.2L401.9 547.9L399.4 552.2L398.5 553.8L399.4 557.4L399.7 561.7L398.2 564.0L395.8 565.7L395.5 568.8L394.9 572.8L393.0 575.9L391.1 579.4L388.4 582.8L385.6 585.4L382.5 586.1L378.5 586.3L375.4 587.7L373.0 586.3L372.6 583.0L371.9 579.4L370.4 574.0L368.8 570.0L367.6 565.7L366.8 560.9L366.5 557.4L365.2 553.8L363.3 549.1L362.5 545.5L362.8 542.0L364.1 537.2L365.4 533.7L365.7 530.8L364.4 526.5L363.3 519.9L362.8 517.1L361.3 514.2L359.4 511.1L358.1 507.6L358.6 504.0L359.2 500.5L359.4 497.6L358.1 495.2L356.9 494.5L355.0 494.8L353.4 495.0L351.9 492.2L350.8 490.3L348.2 490.0L345.9 490.7L344.0 491.9L340.9 493.8L338.5 492.9L335.4 493.1L332.2 494.8L329.9 493.1L327.5 490.3L325.9 488.8L324.4 487.2L323.3 484.6L322.8 482.2L320.9 479.6L319.7 477.4L317.9 475.8L317.6 472.9L317.0 470.3L317.9 467.7L318.4 463.7L318.7 459.7L318.1 457.0L317.3 455.4L318.1 452.3L318.9 449.0L320.4 446.6L321.1 443.1L323.1 439.5L325.9 437.6L328.3 435.2L328.8 432.9L328.6 430.5L329.6 427.9L331.4 425.5L333.3 424.1L334.6 421.0L335.4 420.0L336.9 421.7L339.3 421.5L340.9 421.9L343.2 420.3L346.4 418.6L349.5 417.7L352.6 417.9L355.8 417.4L359.4 416.7L361.0 417.4L360.5 419.1L361.3 421.0L360.0 423.8L360.6 425.3L362.1 426.4L364.4 427.2L367.6 428.3L368.6 430.5L371.5 431.9L373.8 433.3L375.4 431.7L375.4 428.8L377.8 427.2L380.1 427.9L383.2 429.8L386.4 431.0L389.5 431.9L391.9 430.7L394.7 431.2Z"/></clipPath>
<clipPath id="c_australia"><path d="M523.0 557.4L522.2 562.1L522.2 566.9L523.3 570.4L524.5 576.4L525.6 581.1L524.5 586.3L526.1 588.2L529.3 588.2L532.4 585.6L535.5 585.8L538.7 583.7L541.8 581.8L545.0 581.1L547.3 580.2L550.0 579.9L552.0 581.1L554.4 583.0L556.4 587.3L557.5 587.7L558.8 585.4L560.3 582.5L560.0 585.8L559.9 588.7L561.4 588.2L561.0 586.3L561.6 589.6L563.0 590.6L563.8 594.1L566.2 596.3L569.3 597.2L571.6 595.3L573.7 597.9L576.4 595.1L579.3 594.1L579.8 590.6L580.8 587.7L581.9 584.2L583.4 581.1L584.2 577.5L585.2 572.8L584.5 569.2L584.5 565.7L582.6 563.3L581.1 560.9L580.3 558.6L578.7 557.4L577.9 553.8L576.0 551.7L573.7 550.0L573.2 546.7L572.4 543.9L572.1 540.5L570.9 538.9L569.6 539.1L569.3 535.6L568.2 532.5L567.7 530.6L566.9 531.3L566.3 535.6L566.3 539.6L565.8 543.6L565.1 546.7L563.0 546.9L560.7 544.6L558.3 542.4L556.7 540.8L557.5 537.7L558.8 534.4L556.7 533.7L553.6 533.0L551.2 531.8L549.7 534.1L548.4 536.5L547.3 540.3L545.4 540.5L544.2 538.4L541.8 538.4L540.2 541.3L538.7 543.9L537.6 546.5L535.9 546.7L535.9 549.1L534.0 551.7L530.8 552.6L527.7 554.3L525.3 556.2Z"/></clipPath>
<clipPath id="c_tasmania"><path d="M571.2 602.0L574.0 602.7L576.8 602.2L576.8 605.3L575.6 607.9L574.0 608.6L572.3 606.7L571.2 603.6Z"/></clipPath>
<clipPath id="c_nz_n"><path d="M615.1 586.8L617.7 588.9L618.8 591.5L620.0 592.5L620.3 594.4L622.7 594.9L624.2 594.6L623.5 597.7L621.9 598.9L621.7 600.8L619.2 603.9L618.4 603.2L618.8 600.8L616.9 598.7L618.1 597.2L618.3 594.1L617.5 591.8L615.6 588.7Z"/></clipPath>
<clipPath id="c_nz_s"><path d="M615.3 601.3L617.7 604.1L616.1 607.2L615.3 609.1L612.9 610.3L612.2 613.8L610.1 615.7L607.8 615.5L605.4 614.3L607.0 611.5L609.0 609.3L611.7 607.2L613.3 604.3L614.4 602.0Z"/></clipPath>
<clipPath id="c_newguinea"><path d="M549.7 507.1L552.0 506.1L554.4 507.1L554.7 510.9L556.0 513.0L558.0 510.4L559.9 509.0L562.2 509.9L565.4 511.4L568.5 513.3L570.9 514.5L572.9 517.1L574.8 519.2L576.0 521.1L575.1 522.5L576.7 524.7L578.4 526.8L580.3 529.4L579.5 530.3L577.1 529.4L574.8 527.5L573.2 524.7L571.3 523.5L569.8 524.4L568.8 526.5L566.2 527.0L563.8 524.7L561.8 524.9L560.7 522.3L561.8 520.6L560.7 518.0L557.5 515.9L554.4 514.5L552.5 514.7L551.7 512.1L553.6 510.7L551.2 510.2L549.7 508.5Z"/></clipPath>
<clipPath id="c_newbritain"><path d="M576.8 518.5L578.9 518.2L580.8 518.0L582.0 516.8L582.2 515.2L583.1 515.4L583.0 517.5L581.4 519.4L579.5 520.1L577.6 519.9Z"/></clipPath>
<clipPath id="c_newireland"><path d="M580.8 511.4L583.4 513.3L584.4 516.3L583.6 515.6L581.4 512.8Z"/></clipPath>
<clipPath id="c_bougainville"><path d="M586.7 518.0L588.8 520.6L588.3 521.6L586.9 519.4Z"/></clipPath>
<clipPath id="c_borneo"><path d="M515.1 501.6L516.1 500.5L518.3 501.4L518.9 499.0L521.4 497.6L523.0 494.5L525.3 492.2L527.4 488.8L528.8 490.3L529.6 491.9L531.1 492.9L529.6 494.8L528.9 496.9L528.8 499.7L530.7 502.6L528.9 503.3L528.5 506.4L526.9 508.8L526.6 512.8L525.3 514.2L523.9 514.9L521.4 512.8L519.5 513.3L517.2 512.1L516.7 508.8L515.4 506.4L515.1 504.0Z"/></clipPath>
<clipPath id="c_sumatra"><path d="M493.6 491.9L496.3 492.9L498.3 495.2L500.7 498.1L502.3 500.0L504.1 502.1L506.2 504.0L506.8 507.1L508.1 509.5L510.4 511.8L510.3 514.7L510.1 519.0L508.2 519.0L506.5 516.6L504.5 514.2L502.6 511.4L501.5 507.6L499.7 504.5L498.8 501.2L497.1 498.6L495.2 495.9Z"/></clipPath>
<clipPath id="c_java"><path d="M509.2 521.3L511.2 519.4L514.3 520.9L517.5 521.3L518.3 520.4L520.8 521.6L523.8 523.5L523.6 525.6L520.6 525.1L516.7 524.4L513.6 523.7L511.0 522.8Z"/></clipPath>
<clipPath id="c_sunda"><path d="M524.5 524.4L526.9 524.9L529.3 524.7L530.8 525.1L533.2 524.9L536.8 524.7L537.1 525.6L534.0 526.3L530.8 526.1L527.7 526.5L524.9 525.8Z"/></clipPath>
<clipPath id="c_timor"><path d="M537.9 529.6L540.2 527.0L543.4 525.1L542.6 526.5L540.2 528.9Z"/></clipPath>
<clipPath id="c_sumba"><path d="M530.8 527.7L533.7 528.7L532.7 529.6L531.1 528.7Z"/></clipPath>
<clipPath id="c_sulawesi"><path d="M532.1 503.3L533.7 502.1L537.1 503.1L540.2 501.4L540.6 502.8L537.9 504.5L534.8 504.0L532.7 505.2L532.4 507.3L534.4 507.6L537.6 507.1L536.8 509.0L535.1 509.7L536.0 512.8L537.4 515.2L536.8 518.0L535.2 516.6L534.8 514.2L533.8 511.8L533.0 514.7L533.0 518.2L531.6 518.2L531.6 514.7L530.5 511.8L531.3 508.8L532.1 505.7Z"/></clipPath>
<clipPath id="c_halmahera"><path d="M544.2 500.5L545.3 501.6L546.1 504.0L545.0 507.1L544.5 504.7L544.0 502.8Z"/></clipPath>
<clipPath id="c_seram"><path d="M545.0 512.3L547.3 511.8L549.4 513.0L547.3 513.5L545.0 513.3Z"/></clipPath>
<clipPath id="c_buru"><path d="M541.8 512.8L543.7 513.0L543.4 514.2L542.0 513.7Z"/></clipPath>
<clipPath id="c_luzon"><path d="M533.3 461.3L535.9 461.6L536.0 464.9L534.9 467.7L535.1 471.3L537.1 472.5L538.8 475.3L537.6 474.4L536.3 473.2L534.0 472.7L533.3 470.8L532.4 468.4L532.9 465.8L533.0 463.7Z"/></clipPath>
<clipPath id="c_mindanao"><path d="M535.5 488.6L537.6 485.0L539.8 485.0L541.0 482.0L542.3 485.0L542.6 488.6L541.8 490.3L541.0 491.0L540.7 491.7L539.0 490.3L538.7 487.4L537.4 487.4Z"/></clipPath>
<clipPath id="c_samar"><path d="M539.2 475.6L541.0 476.3L541.3 479.1L540.6 481.2L539.8 481.0L539.5 478.4Z"/></clipPath>
<clipPath id="c_negros"><path d="M535.5 477.2L537.4 477.9L538.7 479.6L538.2 482.7L537.1 483.4L536.3 481.5L535.5 480.3Z"/></clipPath>
<clipPath id="c_palawan"><path d="M528.0 485.3L530.0 483.1L531.6 479.6L531.6 478.4L530.5 480.8L528.5 483.9Z"/></clipPath>
<clipPath id="c_mindoro"><path d="M533.0 473.4L534.6 473.4L534.8 475.8L534.0 476.3Z"/></clipPath>
<clipPath id="c_hokkaido"><path d="M563.8 406.8L564.3 402.7L566.2 397.5L568.5 400.1L572.1 402.0L571.6 403.2L569.0 405.6L566.6 404.4L565.4 406.1Z"/></clipPath>
<clipPath id="c_honshu"><path d="M565.8 407.2L566.9 411.5L565.4 414.6L565.4 417.9L564.7 421.5L563.5 422.4L561.4 422.9L559.1 423.1L558.3 424.1L557.2 425.7L556.0 423.4L553.6 423.8L551.2 424.8L549.5 424.6L550.5 422.9L552.5 421.0L556.0 420.8L557.5 419.8L558.8 417.0L559.6 417.9L561.4 416.5L563.0 413.9L563.8 410.8L563.8 408.7Z"/></clipPath>
<clipPath id="c_kyushu"><path d="M548.1 425.7L549.7 424.8L550.9 426.9L550.5 429.8L549.2 431.4L548.4 430.5L548.4 428.1L547.6 426.9Z"/></clipPath>
<clipPath id="c_shikoku"><path d="M552.0 424.8L554.9 423.8L555.3 425.0L554.4 426.2L552.8 427.4L551.9 426.2Z"/></clipPath>
<clipPath id="c_sakhalin"><path d="M566.9 376.4L568.2 378.3L569.0 380.7L569.3 385.4L570.9 388.5L568.5 388.5L568.2 392.5L569.3 395.4L567.7 394.9L566.9 396.1L566.9 392.5L567.1 389.0L566.6 384.2L566.6 380.7Z"/></clipPath>
<clipPath id="c_taiwan"><path d="M534.8 445.4L535.4 447.1L534.4 450.6L533.7 453.0L532.6 450.6L532.9 448.3L534.0 445.9Z"/></clipPath>
<clipPath id="c_hainan"><path d="M514.7 459.7L515.9 457.8L518.0 457.8L518.1 458.9L517.2 461.3L515.9 462.0L514.7 461.1Z"/></clipPath>
<clipPath id="c_srilanka"><path d="M469.4 482.4L470.1 482.7L471.5 485.0L472.4 487.4L472.3 489.8L470.5 491.2L469.6 490.5L469.1 487.4L469.4 485.0Z"/></clipPath>
<clipPath id="c_madagascar"><path d="M421.4 533.7L422.8 538.4L423.1 542.0L422.2 544.3L421.6 547.9L420.1 553.8L419.0 559.3L417.8 564.5L415.4 565.7L413.4 564.5L412.3 560.9L412.0 557.4L413.6 553.8L413.4 550.3L413.1 546.7L413.9 543.6L416.2 542.7L418.3 540.3L419.4 537.7L420.6 534.9Z"/></clipPath>
<clipPath id="c_gb"><path d="M335.4 386.4L338.5 385.9L340.9 384.9L344.0 384.7L346.2 383.8L345.3 383.0L346.7 380.4L344.5 379.5L344.2 378.1L343.7 376.6L342.0 375.2L341.5 373.3L340.1 372.4L339.3 371.4L340.5 370.0L341.0 368.6L338.5 368.3L337.6 368.6L339.0 366.4L336.1 366.2L335.4 368.1L334.9 370.0L335.2 371.9L336.0 373.8L336.5 375.2L338.5 375.0L339.3 377.1L339.0 378.8L336.9 378.8L337.2 380.2L337.4 381.4L335.8 382.3L337.7 383.0L339.3 383.3L337.2 384.2Z"/></clipPath>
<clipPath id="c_ireland"><path d="M334.3 378.8L334.6 376.6L335.2 375.7L334.1 374.3L332.2 374.0L330.7 375.7L328.3 376.6L328.6 378.5L329.1 380.4L327.8 381.9L328.8 383.0L331.0 382.3L333.8 381.4Z"/></clipPath>
<clipPath id="c_iceland"><path d="M305.8 349.6L308.7 347.7L311.0 349.8L314.2 348.4L318.1 347.7L320.9 348.2L322.6 350.5L320.4 352.7L315.7 354.6L311.8 354.3L308.7 353.6L309.5 352.2L306.3 351.3L308.7 350.3Z"/></clipPath>
<clipPath id="c_greenland"><path d="M229.4 319.7L237.2 316.6L241.9 313.5L249.8 311.2L262.4 310.0L273.4 308.8L284.3 307.1L296.9 307.1L306.3 308.8L312.6 311.2L323.6 311.9L325.2 313.1L317.3 315.4L315.0 319.0L314.2 322.6L313.4 326.1L311.8 328.5L309.5 330.9L309.5 334.4L308.7 338.0L304.8 340.3L301.6 342.7L295.3 343.7L290.6 347.5L285.1 349.1L281.2 351.0L279.6 354.6L277.3 358.1L276.5 361.7L274.1 363.1L271.0 361.2L267.9 360.0L266.3 356.9L263.9 353.4L261.6 349.8L260.0 346.3L260.8 342.7L263.9 340.3L258.4 338.0L257.6 334.9L256.1 330.9L252.9 326.6L248.2 324.9L240.4 324.9L235.7 323.7L232.5 321.8Z"/></clipPath>
<clipPath id="c_svalbard"><path d="M361.3 316.6L367.6 315.4L375.4 314.3L386.4 315.0L381.7 317.1L377.0 319.0L373.0 321.4L370.7 323.3L366.8 321.4L362.8 319.0Z"/></clipPath>
<clipPath id="c_novzem"><path d="M424.9 335.6L427.2 337.3L430.4 337.5L434.3 337.5L431.9 334.4L431.1 331.3L435.1 328.5L439.8 326.1L446.1 323.7L451.5 322.8L447.6 325.4L439.0 328.5L433.5 330.9L430.4 333.2L428.0 333.9Z"/></clipPath>
<clipPath id="c_fjl"><path d="M416.2 314.3L422.5 313.3L430.4 313.1L438.2 311.9L444.5 313.1L438.2 314.5L428.8 315.0L419.4 315.2Z"/></clipPath>
<clipPath id="c_sevzem"><path d="M493.1 317.8L497.9 314.3L502.6 316.6L508.9 319.0L505.7 319.7L499.4 319.0Z"/></clipPath>
<clipPath id="c_sevzem2"><path d="M488.4 313.1L494.7 312.6L496.3 314.3L490.0 315.0Z"/></clipPath>
<clipPath id="c_newsib"><path d="M559.1 326.1L563.8 324.9L571.6 325.9L579.5 326.8L574.8 327.8L566.9 327.8L560.7 327.8Z"/></clipPath>
<clipPath id="c_newsib2"><path d="M563.8 330.1L568.5 330.9L567.7 331.6L563.8 331.1Z"/></clipPath>
<clipPath id="c_wrangel"><path d="M624.2 336.3L628.2 335.6L630.5 336.3L628.2 337.0L625.0 337.0Z"/></clipPath>
<clipPath id="c_baffin"><path d="M218.4 330.4L223.1 332.5L227.0 335.1L232.5 336.8L237.2 339.2L238.8 341.5L243.5 345.1L247.4 347.0L244.3 351.0L241.2 355.8L242.3 357.4L239.6 358.4L235.7 356.9L231.7 354.6L228.6 352.2L222.3 352.7L221.5 350.5L227.8 349.1L228.6 345.1L224.7 342.7L220.8 339.2L216.0 339.4L209.0 338.4L204.3 336.8L203.5 333.2L205.8 330.4L211.3 330.6Z"/></clipPath>
<clipPath id="c_victoria"><path d="M160.3 338.0L165.0 340.8L171.3 342.2L178.4 341.5L183.9 340.3L185.4 338.0L179.9 336.8L179.2 333.2L174.4 331.6L168.2 332.5L161.9 332.0L158.0 333.9Z"/></clipPath>
<clipPath id="c_banks"><path d="M146.5 334.4L150.9 336.3L154.8 335.6L157.2 332.5L161.9 330.1L158.7 329.0L152.5 328.7L148.5 330.1Z"/></clipPath>
<clipPath id="c_ellesmere"><path d="M202.7 323.7L210.5 322.6L220.0 323.7L223.1 320.2L227.8 317.8L237.2 314.3L246.7 310.0L234.1 308.1L218.4 308.3L205.8 310.0L201.1 311.9L207.4 314.3L209.0 316.6L205.8 319.5Z"/></clipPath>
<clipPath id="c_axel"><path d="M193.3 315.4L199.6 312.6L205.1 315.9L201.1 319.0L194.8 317.8Z"/></clipPath>
<clipPath id="c_devon"><path d="M193.3 323.0L199.6 323.7L204.3 326.1L212.1 325.4L218.4 328.0L210.5 328.5L199.6 328.0L193.3 326.1Z"/></clipPath>
<clipPath id="c_somerset"><path d="M194.1 329.7L199.6 329.7L201.9 332.0L196.4 334.4L194.1 332.0Z"/></clipPath>
<clipPath id="c_pow"><path d="M183.9 330.9L190.1 330.1L191.7 333.2L188.6 335.6L183.9 333.2Z"/></clipPath>
<clipPath id="c_melville"><path d="M160.3 326.1L166.6 324.2L172.9 323.3L178.4 325.4L176.8 327.5L171.3 328.0L165.0 327.8Z"/></clipPath>
<clipPath id="c_bathurst"><path d="M180.7 323.7L187.0 323.3L190.9 325.4L187.0 327.3L182.3 326.6Z"/></clipPath>
<clipPath id="c_ppatrick"><path d="M150.9 324.2L157.2 321.6L162.7 323.7L157.2 325.2Z"/></clipPath>
<clipPath id="c_ringnes"><path d="M179.2 319.0L187.0 317.8L193.3 319.7L188.6 321.1L180.7 320.7Z"/></clipPath>
<clipPath id="c_kingw"><path d="M187.8 341.1L190.9 339.4L194.1 340.8L192.5 342.5L189.4 342.5Z"/></clipPath>
<clipPath id="c_southampton"><path d="M207.4 349.8L211.3 348.6L216.8 352.9L217.6 354.6L213.7 355.3L209.8 355.8L207.4 353.4Z"/></clipPath>
<clipPath id="c_newfoundland"><path d="M250.9 391.8L252.2 387.8L254.5 384.2L256.9 382.8L256.1 385.4L257.6 387.1L260.0 388.3L260.8 391.3L261.3 392.5L260.0 394.7L258.4 393.7L256.1 394.0L253.7 392.3Z"/></clipPath>
<clipPath id="c_vancouver"><path d="M142.6 384.7L147.0 386.1L150.1 390.2L147.8 389.7L144.6 387.1Z"/></clipPath>
<clipPath id="c_haida"><path d="M135.2 377.1L137.2 377.1L138.0 380.7L136.3 380.0Z"/></clipPath>
<clipPath id="c_kodiak"><path d="M101.4 368.6L104.6 367.6L105.0 369.3L102.2 370.5Z"/></clipPath>
<clipPath id="c_cuba"><path d="M210.5 453.3L213.7 450.6L216.8 450.2L220.0 451.8L223.1 454.0L225.5 456.1L227.5 457.3L226.2 458.0L222.3 458.0L221.5 456.1L219.2 454.2L216.0 452.5L212.9 452.5Z"/></clipPath>
<clipPath id="c_hispaniola"><path d="M227.0 461.6L228.9 458.0L231.4 458.2L234.1 458.5L235.7 459.7L236.6 461.1L234.9 461.6L232.5 462.0L231.4 463.2L230.2 462.0Z"/></clipPath>
<clipPath id="c_jamaica"><path d="M221.1 461.8L223.1 461.3L224.4 462.5L222.6 463.0Z"/></clipPath>
<clipPath id="c_puertorico"><path d="M238.5 461.3L241.0 461.6L240.9 462.5L238.5 462.5Z"/></clipPath>
<clipPath id="c_sicily"><path d="M363.5 415.1L368.5 414.4L367.7 418.1L363.6 416.2Z"/></clipPath>
<clipPath id="c_sardinia"><path d="M356.9 407.9L359.2 407.7L359.1 412.2L357.3 412.7Z"/></clipPath>
<clipPath id="c_corsica"><path d="M357.5 403.4L358.9 403.2L358.8 406.8L357.7 406.5Z"/></clipPath>
<clipPath id="c_crete"><path d="M380.9 420.8L385.3 421.5L384.8 422.4L381.1 421.7Z"/></clipPath>
<clipPath id="c_cyprus"><path d="M394.7 421.9L396.6 421.2L398.3 420.5L397.4 422.2L395.8 423.1Z"/></clipPath>
<clipPath id="c_hawaii"><path d="M99.1 457.3L100.6 458.2L99.9 460.1L99.1 458.7Z"/></clipPath>
<clipPath id="c_zealand"><path d="M361.3 372.8L363.8 372.4L363.3 374.7L361.6 374.5Z"/></clipPath>
<clipPath id="c_gotland"><path d="M372.4 367.9L373.8 368.1L373.0 370.0Z"/></clipPath>
<clipPath id="c_newcal"><path d="M601.5 553.1L605.4 556.2L606.2 558.1L603.8 556.9L601.5 554.3Z"/></clipPath>
<clipPath id="c_bylot"><path d="M216.8 330.4L223.1 331.3L224.7 332.5L220.0 333.2L216.8 332.0Z"/></clipPath>
<clipPath id="c_cornwallis"><path d="M192.5 326.1L197.2 325.9L197.2 328.0L193.3 327.8Z"/></clipPath>
<clipPath id="c_mackenzie"><path d="M165.0 320.2L171.3 318.3L172.9 320.7L168.2 321.8Z"/></clipPath>
<clipPath id="c_amund"><path d="M190.1 318.3L194.1 319.0L192.5 320.7L190.1 320.2Z"/></clipPath>
<clipPath id="c_pcharles"><path d="M222.3 343.9L225.5 343.4L225.8 345.6L223.1 345.8Z"/></clipPath>
<clipPath id="c_coats"><path d="M213.7 356.0L217.6 356.2L218.4 357.7L214.5 357.7Z"/></clipPath>
<clipPath id="c_anticosti"><path d="M242.7 386.8L246.7 388.0L247.0 388.7L243.5 387.5Z"/></clipPath>
<clipPath id="c_hawaii2"><path d="M98.0 455.4L99.1 455.6L98.8 456.3Z"/></clipPath>
<clipPath id="c_hawaii3"><path d="M95.6 454.0L96.4 454.2L96.1 454.7Z"/></clipPath>
<clipPath id="c_hawaii4"><path d="M93.3 452.5L93.9 452.5L93.7 453.3Z"/></clipPath>
<clipPath id="c_solomon1"><path d="M589.7 521.3L591.3 522.5L591.0 523.2L589.5 522.0Z"/></clipPath>
<clipPath id="c_solomon2"><path d="M592.8 523.2L594.9 524.9L594.6 525.6L592.7 523.9Z"/></clipPath>
<clipPath id="c_solomon3"><path d="M594.6 527.3L596.5 528.4L596.1 528.9L594.6 528.0Z"/></clipPath>
<clipPath id="c_solomon4"><path d="M596.3 525.1L597.2 527.5L596.8 527.7L596.0 525.6Z"/></clipPath>
<clipPath id="c_solomon5"><path d="M597.2 529.6L598.8 530.6L598.3 531.1L597.2 530.3Z"/></clipPath>
<clipPath id="c_vanuatu1"><path d="M605.6 540.3L606.5 541.3L606.3 542.9L605.6 542.0Z"/></clipPath>
<clipPath id="c_vanuatu2"><path d="M606.7 543.2L607.4 544.1L607.1 544.8L606.5 543.9Z"/></clipPath>
<clipPath id="c_vanuatu3"><path d="M608.1 546.7L608.7 547.2L608.4 547.7Z"/></clipPath>
<clipPath id="c_vanuatu4"><path d="M609.3 549.6L610.0 550.0L609.6 550.5Z"/></clipPath>
<clipPath id="c_fiji1"><path d="M622.4 546.5L624.4 546.7L624.2 548.4L622.5 548.1Z"/></clipPath>
<clipPath id="c_fiji2"><path d="M624.7 544.1L626.6 543.6L626.3 545.0L624.7 545.3Z"/></clipPath>
<clipPath id="c_bah1"><path d="M220.9 445.7L221.9 445.7L222.2 447.8L221.2 448.0Z"/></clipPath>
<clipPath id="c_bah2"><path d="M220.1 441.9L221.7 441.6L221.7 442.3L220.3 442.3Z"/></clipPath>
<clipPath id="c_bah3"><path d="M222.3 441.4L223.1 442.1L223.0 443.8L222.5 443.1Z"/></clipPath>
<clipPath id="c_bah4"><path d="M224.2 445.2L224.7 446.4L224.4 446.8L223.9 445.7Z"/></clipPath>
<clipPath id="c_bah5"><path d="M225.6 447.8L226.4 449.9L225.9 450.2L225.3 448.3Z"/></clipPath>
<clipPath id="c_bah6"><path d="M228.3 455.2L229.4 454.7L229.2 455.6Z"/></clipPath>
<clipPath id="c_trinidad"><path d="M246.8 479.6L248.4 479.6L248.2 481.2L246.8 481.2Z"/></clipPath>
<clipPath id="c_galapagos"><path d="M200.3 505.9L201.3 505.9L201.4 507.6L200.5 507.6Z"/></clipPath>
<clipPath id="c_attu"><path d="M614.8 379.5L616.4 379.5L616.2 380.2L615.0 380.2Z"/></clipPath>
<clipPath id="c_aleut2"><path d="M622.2 381.6L623.8 381.6L623.6 382.3L622.4 382.3Z"/></clipPath>
</defs>
<g clip-path="url(#c_namerica)">
<rect x="79.1" y="333.4" width="178.3" height="155.7" fill="#f7a987"/>
<path d="M122.6 334.4L122.6 362.2L125.8 362.2L128.9 364.5L130.5 363.4L132.0 362.9L133.9 364.5L135.8 366.7L138.3 370.0L140.7 372.1L140.7 374.7L138.3 376.4L124.2 381.9L61.4 386.6L61.4 334.4Z" fill="#f7c3a5" stroke="#f7c3a5" stroke-width="0.5" stroke-linejoin="round"/>
<path d="M146.2 389.0L194.5 389.0L195.3 389.4L199.6 390.6L203.5 391.3L205.4 390.6L210.9 394.4L212.1 395.6L214.5 397.5L214.9 402.0L214.0 405.1L216.0 405.6L220.0 403.7L219.8 402.3L223.4 401.5L224.7 400.1L226.6 398.5L231.7 398.5L233.6 396.6L234.1 394.9L235.4 392.8L236.9 393.0L237.6 393.7L237.6 396.8L238.5 398.0L239.6 399.6L241.9 410.3L226.2 434.0L220.0 448.3L210.5 448.3L191.7 444.7L191.4 443.8L188.6 442.6L187.8 440.0L185.4 435.0L183.1 434.5L182.3 436.4L179.9 435.0L176.8 429.8L174.1 429.8L174.1 431.0L169.7 431.0L163.8 428.1L160.2 428.1L152.5 429.3L143.0 410.3Z" fill="#f7c3a5" stroke="#f7c3a5" stroke-width="0.5" stroke-linejoin="round"/>
<path d="M160.2 428.1L163.8 428.1L169.7 431.0L174.1 431.0L174.1 429.8L176.8 429.8L179.9 435.0L182.3 436.4L183.1 434.5L185.4 435.0L187.8 440.0L188.6 442.6L191.4 443.8L193.3 444.7L194.8 457.8L202.7 451.8L209.0 453.0L208.2 461.3L205.4 461.3L204.0 462.7L201.1 463.0L200.5 464.4L201.9 467.0L200.0 467.2L199.2 469.1L199.2 470.8L198.0 473.2L187.0 469.6L176.0 457.8L168.2 453.0L158.7 434.0Z" fill="#f5855f" stroke="#f5855f" stroke-width="0.5" stroke-linejoin="round"/>
<path d="M199.2 470.8L199.2 469.1L200.0 467.2L201.9 467.0L200.5 464.4L201.1 463.0L204.0 463.0L204.0 467.5L205.5 467.7L204.0 469.9L203.6 471.0L202.5 472.7L201.1 473.7L198.8 472.0Z" fill="#6cc6a6" stroke="#6cc6a6" stroke-width="0.5" stroke-linejoin="round"/>
<path d="M204.0 463.0L204.0 462.5L205.4 461.3L206.6 461.3L206.2 467.2L204.4 467.7L204.0 467.5Z" fill="#7ccaaa" stroke="#7ccaaa" stroke-width="0.5" stroke-linejoin="round"/>
<path d="M204.0 469.9L205.5 467.7L205.8 466.8L213.7 466.8L213.7 469.6L210.9 470.1L209.5 472.2L207.9 472.5L206.9 474.4L206.3 474.4L206.3 472.2L205.1 472.0L203.6 471.0Z" fill="#a0d8bc" stroke="#a0d8bc" stroke-width="0.5" stroke-linejoin="round"/>
<path d="M202.5 472.7L203.6 471.0L205.1 472.0L206.3 472.2L206.3 474.4L204.3 474.6Z" fill="#84ccac" stroke="#84ccac" stroke-width="0.5" stroke-linejoin="round"/>
<path d="M206.3 474.4L206.9 474.4L207.9 472.5L209.5 472.2L210.9 470.1L213.7 469.6L214.5 472.0L213.4 479.3L212.6 479.3L211.0 478.9L209.5 478.9L208.2 479.1L205.8 475.6Z" fill="#c6e6d2" stroke="#c6e6d2" stroke-width="0.5" stroke-linejoin="round"/>
<path d="M209.5 478.9L211.0 478.9L212.6 479.3L213.4 479.3L214.5 482.4L213.8 483.6L213.8 486.2L212.1 486.2L208.2 482.7L208.7 479.1Z" fill="#f7c2a4" stroke="#f7c2a4" stroke-width="0.5" stroke-linejoin="round"/>
<path d="M213.8 486.2L213.8 483.6L214.5 482.4L216.8 482.7L219.2 481.5L222.8 483.4L222.8 485.0L222.6 486.5L221.7 488.1L220.8 489.1L216.8 489.1L213.7 487.4Z" fill="#ee6246" stroke="#ee6246" stroke-width="0.5" stroke-linejoin="round"/>
</g>
<g clip-path="url(#c_samerica)">
<rect x="215.4" y="474.8" width="74.8" height="158.8" fill="#90d3b3"/>
<path d="M220.3 501.9L222.3 503.5L223.9 504.5L225.8 505.4L227.8 507.6L230.2 510.9L233.9 511.6L234.3 515.2L235.0 508.0L234.1 505.7L234.9 503.8L234.4 502.6L234.4 501.2L238.5 500.5L239.0 502.4L237.6 498.6L238.3 496.9L237.6 494.5L238.0 490.5L235.0 490.7L233.8 488.6L231.0 488.1L230.3 485.3L229.4 482.0L230.5 478.9L232.1 477.2L232.5 474.8L229.4 474.4L223.1 480.3L221.5 484.6L220.8 488.1L220.0 493.3L218.4 500.5Z" fill="#a8dcc1" stroke="#a8dcc1" stroke-width="0.5" stroke-linejoin="round"/>
<path d="M232.1 477.2L230.5 478.9L229.4 482.0L230.3 485.3L231.0 488.1L233.8 488.6L235.0 490.7L238.0 490.5L237.6 494.5L238.3 496.9L237.6 498.6L239.0 502.4L239.9 503.4L241.0 502.8L243.2 501.6L244.5 500.0L243.5 499.3L243.2 495.5L245.6 496.4L248.2 494.5L248.7 492.9L247.6 491.2L248.1 489.3L249.3 488.4L250.1 485.5L250.6 482.7L248.2 477.9L240.4 477.9L235.7 474.4L232.5 474.4Z" fill="#3cb6aa" stroke="#3cb6aa" stroke-width="0.5" stroke-linejoin="round"/>
<path d="M250.1 485.5L249.3 488.4L248.1 489.3L247.6 491.2L248.7 492.9L249.6 492.9L250.3 494.8L250.0 499.3L251.4 502.1L252.9 501.6L254.0 500.7L255.3 500.7L254.0 497.4L252.9 495.7L254.2 492.9L254.4 491.0L254.5 488.6L251.4 483.9Z" fill="#a8dcc1" stroke="#a8dcc1" stroke-width="0.5" stroke-linejoin="round"/>
<path d="M254.4 491.0L254.2 492.9L252.9 495.7L254.0 497.4L255.3 500.7L256.2 500.5L257.6 499.3L258.4 499.7L259.2 496.9L258.6 494.5L259.2 491.4L259.2 489.8L254.5 489.1Z" fill="#5cc0a8" stroke="#5cc0a8" stroke-width="0.5" stroke-linejoin="round"/>
<path d="M259.2 491.4L258.6 494.5L259.2 496.9L258.4 499.7L260.0 499.7L261.6 499.3L262.8 495.7L263.6 494.5L263.1 492.2L260.8 490.5Z" fill="#f7c6aa" stroke="#f7c6aa" stroke-width="0.5" stroke-linejoin="round"/>
<path d="M220.3 501.9L222.3 503.5L223.9 504.5L225.8 505.4L225.5 508.8L223.4 511.4L221.5 513.0L220.8 515.9L219.2 517.1L217.9 515.6L217.9 513.3L215.3 512.3L215.3 502.8L218.4 500.5Z" fill="#84cdab" stroke="#84cdab" stroke-width="0.5" stroke-linejoin="round"/>
<path d="M217.9 513.3L217.9 515.6L219.2 517.1L220.8 515.9L221.5 513.0L223.4 511.4L225.5 508.8L225.8 505.4L227.8 507.6L230.2 510.9L233.9 511.6L234.3 515.2L229.5 517.3L229.1 520.6L227.8 522.8L229.4 527.0L230.6 528.9L233.2 527.7L233.2 531.3L234.7 531.3L236.1 534.9L235.0 540.3L235.7 541.5L234.4 542.2L235.7 543.9L234.7 546.2L234.9 546.7L233.5 548.6L231.0 549.1L223.1 540.8L218.4 528.9L213.7 517.1Z" fill="#8ccfaf" stroke="#8ccfaf" stroke-width="0.5" stroke-linejoin="round"/>
<path d="M234.7 531.3L236.1 534.9L235.0 540.3L235.7 541.5L234.4 542.2L235.7 543.9L234.7 546.2L234.9 546.7L235.7 550.3L236.6 552.6L236.5 555.0L237.4 559.3L238.8 559.5L239.9 556.9L241.9 557.6L243.0 559.3L243.7 557.4L245.6 557.9L246.2 553.8L247.0 551.7L251.2 551.0L252.6 552.2L253.3 550.3L253.7 548.4L252.5 546.2L252.3 543.9L249.5 543.9L249.0 541.0L249.3 537.9L248.2 537.2L245.4 536.0L242.9 534.9L241.3 533.0L241.5 528.4L239.4 528.7L237.2 530.6Z" fill="#7ccaa8" stroke="#7ccaa8" stroke-width="0.5" stroke-linejoin="round"/>
<path d="M245.6 557.9L246.2 553.8L247.0 551.7L251.2 551.0L252.6 552.2L253.1 557.6L256.4 558.1L257.0 562.1L258.7 562.4L258.3 565.9L258.0 568.5L256.1 570.0L252.0 570.0L253.6 565.2L251.7 564.0L249.8 562.1L248.2 561.7Z" fill="#a2d9bd" stroke="#a2d9bd" stroke-width="0.5" stroke-linejoin="round"/>
<path d="M253.6 576.8L254.8 576.6L256.2 578.7L258.3 579.9L259.5 581.3L260.6 582.8L260.2 585.1L260.8 587.0L257.6 589.4L252.9 588.2L252.3 585.8L252.6 583.5L252.9 579.9Z" fill="#badfca" stroke="#badfca" stroke-width="0.5" stroke-linejoin="round"/>
<path d="M237.4 559.3L238.8 559.5L239.9 556.9L241.9 557.6L243.0 559.3L243.7 557.4L245.6 557.9L248.2 561.7L249.8 562.1L251.7 564.0L253.6 565.2L252.0 570.0L256.1 570.0L258.0 568.5L258.3 565.9L259.7 569.0L257.6 571.1L254.8 574.5L253.6 576.8L252.9 579.9L252.6 583.5L252.3 585.8L252.9 588.2L256.1 593.0L248.2 600.1L246.7 607.2L243.5 619.1L240.4 628.5L236.6 629.5L234.1 628.8L231.1 628.5L230.3 626.2L229.1 625.5L228.6 622.6L230.2 621.0L230.5 617.9L231.4 615.5L231.4 611.9L232.1 610.8L231.3 608.4L231.3 604.8L231.4 601.3L231.9 598.9L232.7 596.5L232.4 594.1L233.5 591.1L233.5 588.7L234.4 586.6L234.3 584.2L233.3 582.3L233.6 579.2L234.3 577.1L234.4 574.0L235.4 571.1L236.6 569.2L236.5 565.0L236.8 563.3L238.3 562.1L238.8 559.8Z" fill="#98d5b7" stroke="#98d5b7" stroke-width="0.5" stroke-linejoin="round"/>
<path d="M234.9 546.7L235.7 550.3L236.6 552.6L236.5 555.0L237.4 559.3L238.8 559.8L238.3 562.1L236.8 563.3L236.5 565.0L236.6 569.2L235.4 571.1L234.4 574.0L234.3 577.1L233.6 579.2L233.3 582.3L234.3 584.2L234.4 586.6L233.5 588.7L233.5 591.1L232.4 594.1L232.7 596.5L231.9 598.9L231.4 601.3L231.3 604.8L231.3 608.4L232.1 610.8L231.4 611.9L231.4 615.5L230.5 617.9L230.2 621.0L228.6 622.6L229.1 625.5L230.3 626.2L231.1 628.5L234.1 628.8L236.6 629.5L236.6 630.9L232.5 634.5L223.1 633.3L221.5 611.9L226.2 576.4L231.0 545.5L233.5 548.6Z" fill="#f7c4a6" stroke="#f7c4a6" stroke-width="0.5" stroke-linejoin="round"/>
</g>
<g clip-path="url(#c_tdf)">
<rect x="230.0" y="629.2" width="12.7" height="8.2" fill="#98d5b7"/>
<path d="M236.3 628.5L236.3 635.4L240.4 636.8L229.4 638.0L229.4 628.5Z" fill="#f7c4a6" stroke="#f7c4a6" stroke-width="0.5" stroke-linejoin="round"/>
</g>
<g clip-path="url(#c_eurasia)">
<rect x="328.1" y="319.9" width="315.7" height="183.2" fill="#c6e5d3"/>
<path d="M362.1 365.3L363.3 361.7L363.2 355.8L366.0 352.7L366.8 349.1L369.1 345.8L372.3 343.0L375.9 341.5L377.8 341.1L380.9 342.2L384.0 341.5L384.8 339.6L388.0 339.2L389.5 341.1L392.4 340.1L394.2 338.0L388.0 334.4L372.3 336.8L362.8 342.7L358.1 351.0L349.5 356.9L349.5 366.4L355.0 369.3L360.5 366.4Z" fill="#f7c2a6" stroke="#f7c2a6" stroke-width="0.5" stroke-linejoin="round"/>
<path d="M362.1 365.3L363.3 361.7L363.2 355.8L366.0 352.7L366.8 349.1L369.1 345.8L372.3 343.0L375.9 341.5L377.8 343.0L381.1 344.4L381.4 347.5L382.0 349.1L378.5 352.2L374.6 356.9L373.0 361.7L374.6 364.1L371.5 370.0L369.1 373.6L364.4 374.7L362.8 371.2L360.5 366.4Z" fill="#f9d6c4" stroke="#f9d6c4" stroke-width="0.5" stroke-linejoin="round"/>
<path d="M375.9 341.5L377.8 341.1L380.9 342.2L384.0 341.5L384.8 339.6L388.0 339.2L389.5 341.1L388.7 343.2L391.1 344.9L389.5 346.8L391.1 349.8L390.6 352.2L391.9 353.9L393.5 356.2L390.3 359.8L387.6 361.7L383.2 363.6L378.5 364.1L376.2 360.5L376.2 354.6L381.7 350.3L382.0 349.1L381.4 347.5L381.1 344.4L377.8 343.0Z" fill="#f7b090" stroke="#f7b090" stroke-width="0.5" stroke-linejoin="round"/>
<path d="M356.6 375.0L358.9 375.2L359.7 375.5L364.4 375.5L364.4 371.9L361.3 367.6L356.6 368.8Z" fill="#f7bc9c" stroke="#f7bc9c" stroke-width="0.5" stroke-linejoin="round"/>
<path d="M377.8 368.1L382.2 367.9L387.0 368.8L388.3 364.1L384.8 363.4L380.1 364.1L377.8 366.4Z" fill="#f8c8ae" stroke="#f8c8ae" stroke-width="0.5" stroke-linejoin="round"/>
<path d="M376.7 371.7L377.0 368.1L382.2 367.9L387.0 368.8L388.3 371.9L385.8 373.1L383.2 371.7L378.5 371.4Z" fill="#f9d4c0" stroke="#f9d4c0" stroke-width="0.5" stroke-linejoin="round"/>
<path d="M376.7 371.7L378.5 371.4L383.2 371.7L385.8 373.1L384.5 376.6L380.9 377.1L379.8 376.2L379.3 374.7L376.7 374.0Z" fill="#f7c2a4" stroke="#f7c2a4" stroke-width="0.5" stroke-linejoin="round"/>
<path d="M378.9 390.4L379.6 388.7L381.7 385.4L381.2 382.8L383.2 382.1L387.2 383.0L391.9 383.3L393.5 381.4L397.4 381.1L399.7 385.4L403.7 386.6L406.8 387.5L406.8 391.3L404.1 393.7L400.5 398.5L395.8 400.8L392.7 396.1L390.3 397.7L388.3 397.3L389.5 394.9L391.1 394.9L389.5 391.3L387.2 390.2L385.8 390.6L383.2 391.8L380.1 391.3Z" fill="#34789e" stroke="#34789e" stroke-width="0.5" stroke-linejoin="round"/>
<path d="M385.8 390.6L387.2 390.2L389.5 391.3L391.1 394.9L389.5 394.9L388.3 397.3L388.0 394.9L386.4 391.8Z" fill="#84ccac" stroke="#84ccac" stroke-width="0.5" stroke-linejoin="round"/>
<path d="M380.1 391.3L383.2 391.8L385.8 390.6L386.4 391.8L388.0 394.9L388.3 397.3L390.6 397.7L391.1 400.8L388.9 401.5L386.4 400.6L383.2 401.5L379.6 401.3L379.3 399.2L377.6 398.9L375.9 395.9L377.3 395.1L378.5 392.3L380.0 391.3Z" fill="#f79270" stroke="#f79270" stroke-width="0.5" stroke-linejoin="round"/>
<path d="M379.6 401.3L383.2 401.5L386.4 400.6L388.9 401.5L389.5 405.6L388.0 405.6L385.3 406.3L383.2 407.2L380.1 407.2L379.2 404.9Z" fill="#f7b898" stroke="#f7b898" stroke-width="0.5" stroke-linejoin="round"/>
<path d="M328.3 418.6L332.4 417.2L332.2 415.1L333.0 414.6L332.5 411.5L333.2 410.6L333.2 407.9L334.3 406.5L333.8 405.6L331.1 405.3L330.0 405.8L328.3 405.6Z" fill="#f9d6c0" stroke="#f9d6c0" stroke-width="0.5" stroke-linejoin="round"/>
<path d="M328.3 405.6L330.0 405.8L331.1 405.3L333.8 405.6L334.3 406.5L333.2 407.9L333.2 410.6L332.5 411.5L333.0 414.6L332.2 415.1L332.4 417.2L332.2 421.0L342.4 420.3L350.3 410.3L349.2 404.6L346.7 404.4L345.1 403.7L341.2 402.3L340.9 399.6L328.3 399.6Z" fill="#f8ccb2" stroke="#f8ccb2" stroke-width="0.5" stroke-linejoin="round"/>
<path d="M341.2 402.3L345.1 403.7L346.7 404.4L349.2 404.6L350.3 404.4L355.9 402.7L355.8 401.3L355.0 400.4L355.0 398.0L354.7 396.3L353.6 395.6L354.8 393.0L355.9 392.3L356.9 389.0L354.0 387.8L353.1 387.8L351.5 386.6L350.6 385.9L348.1 384.0L345.6 383.0L334.6 389.0L339.3 396.1Z" fill="#f8cab0" stroke="#f8cab0" stroke-width="0.5" stroke-linejoin="round"/>
<path d="M348.1 384.0L350.6 385.9L351.5 386.6L353.1 387.8L354.0 387.8L354.0 385.9L353.4 384.7L352.9 383.8L350.8 383.3L349.3 383.3L347.9 383.3Z" fill="#f7bea0" stroke="#f7bea0" stroke-width="0.5" stroke-linejoin="round"/>
<path d="M349.3 383.3L350.8 383.3L352.9 383.8L353.4 384.7L353.6 382.1L355.0 381.1L355.3 378.8L353.4 377.1L350.3 378.3Z" fill="#f7c4a6" stroke="#f7c4a6" stroke-width="0.5" stroke-linejoin="round"/>
<path d="M353.4 384.7L354.0 385.9L354.0 387.8L356.9 389.0L355.9 392.3L359.1 392.5L360.3 392.8L364.4 392.5L364.1 390.9L365.7 389.4L363.2 386.1L366.5 384.2L367.6 384.5L367.1 381.6L366.3 380.0L366.3 376.6L362.8 375.2L358.9 375.2L357.0 374.7L355.0 377.1L355.3 378.8L355.0 381.1L353.6 382.1Z" fill="#f7aa8a" stroke="#f7aa8a" stroke-width="0.5" stroke-linejoin="round"/>
<path d="M353.6 395.6L354.7 396.3L356.4 396.1L358.1 396.3L360.3 394.9L359.1 392.5L355.9 392.3L354.8 393.0Z" fill="#f8cab0" stroke="#f8cab0" stroke-width="0.5" stroke-linejoin="round"/>
<path d="M359.1 392.5L359.1 393.5L360.3 394.0L363.2 393.7L365.5 394.9L369.3 394.4L369.9 392.5L370.8 391.3L370.5 389.7L367.6 389.0L365.7 389.4L364.1 390.9L364.4 392.5L360.3 392.8Z" fill="#f79c78" stroke="#f79c78" stroke-width="0.5" stroke-linejoin="round"/>
<path d="M354.7 396.3L355.0 398.0L355.0 400.4L355.8 401.3L355.9 402.7L359.7 407.9L367.6 418.6L373.8 410.3L366.0 398.5L365.5 396.8L365.0 394.9L363.2 393.7L360.3 394.0L360.3 394.9L358.1 396.3L356.4 396.1Z" fill="#f7c4a6" stroke="#f7c4a6" stroke-width="0.5" stroke-linejoin="round"/>
<path d="M363.2 386.1L365.7 389.4L367.6 389.0L370.5 389.7L373.5 387.8L372.3 386.8L369.9 386.1L367.6 384.5L366.5 384.2Z" fill="#f7bea0" stroke="#f7bea0" stroke-width="0.5" stroke-linejoin="round"/>
<path d="M370.5 389.7L370.8 391.3L373.4 391.8L376.2 390.6L378.9 390.4L379.5 388.7L376.2 388.3L373.8 388.0L373.5 387.8Z" fill="#f8c8ae" stroke="#f8c8ae" stroke-width="0.5" stroke-linejoin="round"/>
<path d="M369.3 394.4L369.9 392.5L370.8 391.3L373.4 391.8L376.2 390.6L378.9 390.4L380.0 391.3L378.5 392.3L377.3 395.1L375.9 395.9L373.5 396.3L371.5 396.3L369.7 394.7Z" fill="#fbe0d0" stroke="#fbe0d0" stroke-width="0.5" stroke-linejoin="round"/>
<path d="M365.0 394.9L365.5 394.9L369.3 394.4L369.7 394.7L368.6 395.6L368.0 397.3L365.4 397.5Z" fill="#f7c4a6" stroke="#f7c4a6" stroke-width="0.5" stroke-linejoin="round"/>
<path d="M365.4 397.5L368.0 397.3L368.6 395.6L369.7 394.7L371.5 396.3L373.5 396.3L374.0 398.5L373.7 398.7L370.7 398.0L368.8 398.0L368.8 399.6L371.5 403.2L373.0 404.4L370.7 404.4L366.0 400.8L364.9 398.5Z" fill="#f7c0a2" stroke="#f7c0a2" stroke-width="0.5" stroke-linejoin="round"/>
<path d="M368.8 398.0L370.7 398.0L373.7 398.7L374.5 400.1L374.6 401.8L373.0 404.2L371.5 403.2L368.8 399.6Z" fill="#d8305a" stroke="#d8305a" stroke-width="0.5" stroke-linejoin="round"/>
<path d="M373.5 396.3L375.9 395.9L377.6 398.9L379.3 399.2L379.6 401.3L379.2 404.9L377.8 405.1L376.3 405.8L375.4 403.9L374.1 402.0L374.6 401.8L374.5 400.1L373.7 398.7L374.0 398.5Z" fill="#f7b898" stroke="#f7b898" stroke-width="0.5" stroke-linejoin="round"/>
<path d="M375.6 404.2L376.3 402.7L377.8 403.4L377.9 404.9L376.3 405.8Z" fill="#3a5c8c" stroke="#3a5c8c" stroke-width="0.5" stroke-linejoin="round"/>
<path d="M373.0 404.2L374.6 401.8L374.1 402.0L375.4 403.9L374.5 405.8L373.0 404.9Z" fill="#f7b898" stroke="#f7b898" stroke-width="0.5" stroke-linejoin="round"/>
<path d="M374.5 405.8L375.4 403.9L376.3 405.8L376.2 407.2L377.0 408.4L375.9 411.0L373.8 410.3L373.8 406.1Z" fill="#cce8d8" stroke="#cce8d8" stroke-width="0.5" stroke-linejoin="round"/>
<path d="M376.3 405.8L377.8 405.1L379.2 404.9L380.1 407.2L377.0 408.4L376.2 407.2Z" fill="#f7c0a2" stroke="#f7c0a2" stroke-width="0.5" stroke-linejoin="round"/>
<path d="M375.9 411.0L377.0 408.4L380.1 407.2L383.2 407.2L385.3 406.3L385.8 408.2L384.8 409.1L382.5 411.5L383.2 417.4L380.1 420.3L377.0 418.6L374.6 411.5Z" fill="#fbe6da" stroke="#fbe6da" stroke-width="0.5" stroke-linejoin="round"/>
<path d="M384.8 409.8L385.8 408.2L385.3 406.3L388.0 405.3L394.2 404.4L400.5 404.4L409.2 406.8L412.3 407.7L412.6 410.1L414.3 411.0L413.6 413.9L414.0 417.0L410.4 417.0L407.6 417.4L404.4 417.9L401.6 418.1L400.8 420.3L395.8 421.0L388.0 420.3L384.0 416.2Z" fill="#f9d6c2" stroke="#f9d6c2" stroke-width="0.5" stroke-linejoin="round"/>
<path d="M406.8 402.0L409.2 406.8L412.3 407.7L414.6 407.2L417.0 407.7L416.8 405.8L413.9 403.9L411.5 402.7L406.8 401.8Z" fill="#f7b897" stroke="#f7b897" stroke-width="0.5" stroke-linejoin="round"/>
<path d="M412.3 407.7L414.6 407.5L415.6 408.4L417.0 411.5L416.4 412.9L414.3 411.0L412.6 410.1Z" fill="#cce8d8" stroke="#cce8d8" stroke-width="0.5" stroke-linejoin="round"/>
<path d="M414.6 407.2L416.8 405.8L417.0 407.7L419.0 407.5L420.3 406.1L423.3 409.6L420.8 414.1L419.4 413.2L419.4 411.0L417.0 412.9L416.4 412.9L417.0 411.5L415.6 408.4Z" fill="#c0e4d0" stroke="#c0e4d0" stroke-width="0.5" stroke-linejoin="round"/>
<path d="M399.7 421.0L400.8 420.3L401.6 418.1L404.4 417.9L407.6 417.4L410.4 417.0L408.7 422.7L408.4 423.6L404.9 426.0L401.8 428.6L400.2 427.6L399.9 426.2L401.1 423.4L400.5 423.1Z" fill="#3476a6" stroke="#3476a6" stroke-width="0.5" stroke-linejoin="round"/>
<path d="M398.9 426.7L399.9 426.2L401.1 423.4L400.5 423.1L399.7 422.9Z" fill="#f7c8ac" stroke="#f7c8ac" stroke-width="0.5" stroke-linejoin="round"/>
<path d="M397.7 431.0L398.8 435.2L399.6 431.2L399.9 427.6L400.2 427.6L399.9 426.2L398.9 426.7L398.2 429.3Z" fill="#f7c8ac" stroke="#f7c8ac" stroke-width="0.5" stroke-linejoin="round"/>
<path d="M398.8 435.2L400.5 435.9L402.9 434.0L402.1 430.5L405.2 429.3L405.5 428.8L404.9 426.0L401.8 428.6L400.2 427.6L399.9 427.6L399.6 431.2Z" fill="#f9d4be" stroke="#f9d4be" stroke-width="0.5" stroke-linejoin="round"/>
<path d="M394.2 429.3L397.7 431.0L398.8 435.2L398.2 441.2L394.2 436.4Z" fill="#b8e2cb" stroke="#b8e2cb" stroke-width="0.5" stroke-linejoin="round"/>
<path d="M404.9 426.0L408.4 423.6L408.7 422.7L410.4 417.0L414.0 417.0L415.3 419.8L416.5 421.7L415.4 423.4L416.5 426.4L419.0 429.3L418.9 431.7L419.4 434.0L420.1 434.3L418.9 433.8L417.0 436.2L414.2 435.9L409.9 431.4L407.4 429.5L405.5 428.8Z" fill="#54bca6" stroke="#54bca6" stroke-width="0.5" stroke-linejoin="round"/>
<path d="M417.0 436.2L418.9 433.8L420.1 434.3L420.1 437.6L418.6 437.6Z" fill="#f7c6a8" stroke="#f7c6a8" stroke-width="0.5" stroke-linejoin="round"/>
<path d="M398.8 435.2L400.5 435.9L402.9 434.0L402.1 430.5L405.2 429.3L405.5 428.8L407.4 429.5L409.9 431.4L414.2 435.9L417.0 436.2L418.6 437.6L420.1 437.6L423.3 441.2L423.8 445.9L423.8 446.6L424.4 446.8L425.0 447.8L426.6 450.9L430.7 451.4L431.4 453.0L430.4 457.8L425.6 460.1L421.1 461.1L419.7 462.0L417.3 464.2L415.3 464.2L413.6 463.9L412.1 463.7L411.7 465.6L411.2 466.3L408.4 466.1L400.5 445.9L397.4 438.8Z" fill="#f9d4be" stroke="#f9d4be" stroke-width="0.5" stroke-linejoin="round"/>
<path d="M411.2 466.3L411.7 465.6L412.1 463.7L413.6 463.9L415.3 464.2L417.3 464.2L419.7 462.0L421.1 461.1L425.6 460.1L427.4 465.8L427.2 468.4L414.6 476.7L411.5 476.7L409.9 469.6Z" fill="#38b2aa" stroke="#38b2aa" stroke-width="0.5" stroke-linejoin="round"/>
<path d="M427.4 465.8L425.6 460.1L430.4 457.8L431.4 453.0L430.7 451.4L431.6 447.8L432.5 446.1L433.5 445.9L439.0 451.8L435.1 460.1L430.4 467.2Z" fill="#fbe0ce" stroke="#fbe0ce" stroke-width="0.5" stroke-linejoin="round"/>
<path d="M425.0 447.8L426.6 450.9L430.7 451.4L431.6 447.8L432.5 446.1L432.9 442.3L431.1 443.5L428.8 446.6L425.3 446.8Z" fill="#f8ccb0" stroke="#f8ccb0" stroke-width="0.5" stroke-linejoin="round"/>
<path d="M423.8 446.6L424.4 446.8L425.2 445.9L425.2 442.8L423.8 444.0Z" fill="#f7bea0" stroke="#f7bea0" stroke-width="0.5" stroke-linejoin="round"/>
<path d="M414.3 411.0L416.4 412.9L417.0 412.9L419.4 411.0L419.4 413.2L420.8 414.1L420.9 416.7L428.8 418.6L428.6 416.7L430.0 416.2L432.2 414.8L434.0 414.4L437.1 416.2L440.1 418.4L440.1 420.8L439.0 424.6L439.6 430.5L441.0 430.7L441.0 432.1L439.6 434.5L441.0 437.4L442.6 438.3L442.6 440.7L443.4 442.1L441.2 443.1L440.7 445.4L440.2 446.8L434.3 445.2L433.0 441.6L428.8 443.5L424.1 441.2L421.7 435.2L420.1 434.3L419.4 434.0L418.9 431.7L419.0 429.3L416.5 426.4L415.4 423.4L416.5 421.7L415.3 419.8L414.0 417.0L413.6 413.9Z" fill="#d2ecdc" stroke="#d2ecdc" stroke-width="0.5" stroke-linejoin="round"/>
<path d="M426.4 406.1L428.8 404.9L431.1 407.2L431.9 407.2L433.5 407.2L435.8 403.9L438.2 405.1L438.5 407.2L441.2 407.7L442.1 410.3L445.3 412.9L448.6 415.1L448.4 416.5L447.0 416.7L445.3 419.1L442.9 421.2L440.1 420.8L440.1 418.4L437.1 416.2L434.0 414.4L432.2 414.8L430.0 416.2L428.6 416.7L426.4 417.4L425.6 412.7L425.6 406.8Z" fill="#d1ebdc" stroke="#d1ebdc" stroke-width="0.5" stroke-linejoin="round"/>
<path d="M431.9 407.2L431.9 398.5L435.8 397.0L439.8 400.1L441.3 402.0L445.9 401.5L447.8 403.2L447.6 405.6L450.9 408.4L454.7 405.6L455.9 405.1L458.6 408.4L456.6 409.8L454.7 409.6L452.8 408.4L451.7 409.8L451.5 411.5L449.8 411.5L451.4 414.6L450.4 417.0L448.4 416.5L448.6 415.1L445.3 412.9L442.1 410.3L441.2 407.7L438.5 407.2L438.2 405.1L435.8 403.9L433.5 407.2Z" fill="#d0eadb" stroke="#d0eadb" stroke-width="0.5" stroke-linejoin="round"/>
<path d="M421.7 395.6L420.1 394.7L417.8 391.8L417.3 390.2L418.1 388.3L417.6 386.8L420.1 386.8L420.6 385.2L423.6 382.6L427.8 383.0L429.6 384.2L431.4 385.2L435.8 384.0L438.0 384.7L440.4 384.7L438.2 382.1L439.8 380.7L439.8 379.5L441.3 377.3L442.9 376.6L446.4 376.2L451.1 374.7L455.2 374.0L455.8 376.6L459.4 377.1L459.2 378.3L464.1 376.6L464.7 376.2L469.6 384.7L474.9 384.2L477.9 387.5L481.1 388.5L478.7 390.4L478.5 393.2L474.3 393.2L473.2 397.3L469.8 398.5L470.9 402.7L469.9 405.1L468.0 403.7L462.8 403.2L460.7 402.7L459.4 404.4L455.8 403.7L455.3 404.9L454.7 405.6L450.9 408.4L447.6 405.6L447.8 403.2L445.9 401.5L441.3 402.0L439.8 400.1L435.8 397.0L431.9 398.5L431.9 407.2L431.1 407.2L428.8 404.9L426.4 406.1L422.5 405.6L422.5 398.5Z" fill="#f7c4a6" stroke="#f7c4a6" stroke-width="0.5" stroke-linejoin="round"/>
<path d="M452.8 408.4L454.7 409.6L456.6 409.8L458.6 408.4L455.9 405.1L455.3 404.9L455.8 403.7L459.4 404.4L460.7 402.7L462.8 403.2L468.0 403.7L469.9 405.1L466.5 407.9L464.6 408.2L460.2 410.3L459.7 411.5L455.5 411.7L452.8 411.3Z" fill="#c0e4d0" stroke="#c0e4d0" stroke-width="0.5" stroke-linejoin="round"/>
<path d="M459.7 411.5L461.8 416.5L456.3 418.1L456.3 415.1L454.2 416.0L450.4 417.0L451.4 414.6L449.8 411.5L451.5 411.5L451.7 409.8L452.8 408.4L452.8 411.3L455.5 411.7Z" fill="#bae1cb" stroke="#bae1cb" stroke-width="0.5" stroke-linejoin="round"/>
<path d="M440.1 420.8L442.9 421.2L445.3 419.1L447.0 416.7L448.4 416.5L450.4 417.0L454.2 416.0L456.3 415.1L456.3 418.1L461.8 416.5L461.6 417.0L460.2 417.9L456.4 418.9L455.8 422.9L453.9 424.6L454.4 426.2L452.8 429.5L448.7 431.2L448.1 434.3L442.1 435.5L439.6 434.5L441.0 432.1L441.0 430.7L439.6 430.5L439.0 424.6Z" fill="#34b0ac" stroke="#34b0ac" stroke-width="0.5" stroke-linejoin="round"/>
<path d="M439.6 434.5L442.1 435.5L448.1 434.3L448.7 431.2L452.8 429.5L454.4 426.2L453.9 424.6L455.8 422.9L456.4 418.9L460.2 417.9L461.6 417.0L466.1 421.0L464.6 422.9L460.2 422.9L460.2 426.9L462.4 428.6L461.0 431.7L458.6 434.3L456.9 439.0L454.5 438.8L453.1 441.6L454.2 444.2L455.5 447.3L452.0 447.6L451.1 449.0L449.2 449.5L448.4 447.1L440.2 446.8L440.7 445.4L441.2 443.1L443.4 442.1L442.6 440.7L442.6 438.3L441.0 437.4Z" fill="#56bca6" stroke="#56bca6" stroke-width="0.5" stroke-linejoin="round"/>
<path d="M451.1 449.0L452.0 447.6L455.5 447.3L454.2 444.2L453.1 441.6L454.5 438.8L456.9 439.0L458.6 434.3L461.0 431.7L462.4 428.6L460.2 426.9L460.2 422.9L464.6 422.9L466.1 421.0L468.0 423.8L467.7 428.1L467.6 430.5L469.9 432.6L471.2 433.6L469.8 436.9L474.8 440.2L477.5 441.9L482.3 442.6L482.3 439.0L483.4 438.8L483.6 440.4L483.7 441.6L488.4 441.6L488.6 439.3L487.8 439.3L491.6 435.9L494.7 435.5L496.8 438.3L495.0 440.4L493.5 443.3L492.7 445.4L491.9 448.3L490.5 448.3L490.5 452.5L489.4 453.3L488.9 449.0L487.2 449.2L487.2 448.0L489.1 445.9L485.0 445.2L485.0 443.5L482.9 442.6L482.3 444.0L483.6 445.4L482.3 447.1L483.3 447.8L483.6 451.8L483.7 454.7L482.2 456.6L477.5 462.5L470.4 479.1L466.5 488.6L460.2 476.7L457.0 460.1L453.9 457.8L450.8 451.8Z" fill="#98d6b8" stroke="#98d6b8" stroke-width="0.5" stroke-linejoin="round"/>
<path d="M471.2 433.6L469.8 436.9L474.8 440.2L477.5 441.9L482.3 442.6L482.3 439.0L479.0 438.8L475.9 435.9L472.7 433.3Z" fill="#a0d8bc" stroke="#a0d8bc" stroke-width="0.5" stroke-linejoin="round"/>
<path d="M483.7 441.6L488.4 441.6L488.6 439.3L487.8 439.3L485.3 438.1L483.6 440.4Z" fill="#b0dec6" stroke="#b0dec6" stroke-width="0.5" stroke-linejoin="round"/>
<path d="M482.3 447.1L483.6 445.4L482.3 444.0L482.9 442.6L485.0 443.5L485.0 445.2L489.1 445.9L487.2 448.0L487.2 449.2L488.9 449.0L489.4 453.3L488.9 456.1L486.9 455.4L483.7 454.7L483.6 451.8L483.3 447.8Z" fill="#c4e6d2" stroke="#c4e6d2" stroke-width="0.5" stroke-linejoin="round"/>
<path d="M488.9 456.1L489.4 453.3L490.5 452.5L490.5 448.3L491.9 448.3L492.7 445.4L493.5 443.3L495.0 440.4L496.8 438.3L499.0 439.7L499.0 443.8L497.2 446.4L497.4 448.5L499.3 450.2L500.2 451.1L499.7 452.8L501.2 454.2L502.9 454.0L501.2 456.8L499.4 457.5L498.3 458.5L497.4 461.3L499.0 466.5L498.2 469.1L499.7 475.1L500.4 477.2L499.1 480.8L498.8 482.0L497.1 481.5L496.3 467.2L491.6 469.6L490.0 458.9Z" fill="#9ad6b8" stroke="#9ad6b8" stroke-width="0.5" stroke-linejoin="round"/>
<path d="M501.2 456.8L501.9 458.9L503.0 458.7L502.6 462.5L504.3 462.0L505.2 462.7L507.1 461.8L508.5 463.9L508.5 466.5L509.8 468.2L509.2 471.3L505.7 471.3L504.8 472.9L505.6 477.4L504.1 479.1L502.6 483.9L504.9 488.6L504.3 490.5L502.7 491.7L501.2 489.8L499.4 491.0L497.5 485.0L498.8 482.0L499.1 480.8L500.4 477.2L499.7 475.1L498.2 469.1L499.0 466.5L497.4 461.3L498.3 458.5L499.4 457.5Z" fill="#c4e6d2" stroke="#c4e6d2" stroke-width="0.5" stroke-linejoin="round"/>
<path d="M501.2 456.8L502.9 454.0L504.3 452.1L505.6 453.7L506.0 455.9L508.2 456.8L507.3 458.9L509.2 460.8L511.4 464.9L512.8 469.1L512.8 470.3L510.4 471.3L509.2 471.3L509.8 468.2L508.5 466.5L508.5 463.9L507.1 461.8L505.2 462.7L504.3 462.0L502.6 462.5L503.0 458.7L501.9 458.9Z" fill="#74c8a8" stroke="#74c8a8" stroke-width="0.5" stroke-linejoin="round"/>
<path d="M504.3 452.1L505.7 451.6L509.3 449.9L511.5 451.1L513.6 454.2L515.1 457.8L512.0 462.5L516.7 472.0L515.9 479.1L510.4 486.2L507.9 480.5L509.0 479.3L510.4 479.1L510.3 477.4L512.8 476.0L512.8 470.3L512.8 469.1L511.4 464.9L509.2 460.8L507.3 458.9L508.2 456.8L506.0 455.9L505.6 453.7Z" fill="#a4dac0" stroke="#a4dac0" stroke-width="0.5" stroke-linejoin="round"/>
<path d="M505.6 477.4L504.8 472.9L505.7 471.3L509.2 471.3L510.4 471.3L512.8 470.3L512.8 476.0L510.3 477.4L510.4 479.1L509.0 479.3L507.9 480.5L506.5 480.8L505.4 479.1Z" fill="#a0d8bc" stroke="#a0d8bc" stroke-width="0.5" stroke-linejoin="round"/>
<path d="M501.2 489.8L502.7 491.7L504.3 490.5L505.7 489.8L508.9 500.5L507.3 503.3L504.1 501.6L500.2 494.5Z" fill="#f7c6aa" stroke="#f7c6aa" stroke-width="0.5" stroke-linejoin="round"/>
<path d="M481.8 388.5L483.3 390.9L486.1 392.5L486.9 397.7L490.8 398.7L493.8 400.1L495.3 403.9L501.0 404.2L503.8 404.4L508.9 406.5L512.8 404.6L515.9 404.6L519.5 401.5L519.7 398.5L522.4 398.9L525.3 397.5L527.1 395.4L528.3 394.7L532.1 394.4L530.0 391.6L528.3 392.1L525.5 391.6L526.1 389.4L527.2 387.1L523.5 385.9L519.8 387.8L514.3 388.3L512.0 386.1L505.7 385.9L504.6 383.5L499.4 381.9L497.9 383.0L497.1 386.6L492.4 386.4L488.4 384.7L483.7 387.5Z" fill="#d4ecde" stroke="#d4ecde" stroke-width="0.5" stroke-linejoin="round"/>
<path d="M459.7 411.5L460.2 410.3L464.6 408.2L466.5 407.9L469.9 405.1L470.9 402.7L469.8 398.5L473.2 397.3L474.3 393.2L478.5 393.2L478.7 390.4L481.1 388.5L481.8 388.5L483.3 390.9L486.1 392.5L486.9 397.7L490.8 398.7L493.8 400.1L495.3 403.9L501.0 404.2L503.8 404.4L508.9 406.5L512.8 404.6L515.9 404.6L519.5 401.5L519.7 398.5L522.4 398.9L525.3 397.5L527.1 395.4L528.3 394.7L532.1 394.4L530.0 391.6L528.3 392.1L525.5 391.6L526.1 389.4L527.2 387.1L528.9 387.8L531.1 386.4L533.7 380.7L532.4 378.8L537.9 378.3L541.2 379.5L544.2 386.1L544.3 387.1L548.9 389.2L549.7 392.1L552.8 391.1L555.5 390.6L554.4 393.2L553.0 398.2L550.9 397.7L549.7 398.9L550.1 402.0L549.0 404.6L547.6 404.6L545.0 405.6L545.1 407.0L543.2 406.1L539.2 410.3L535.5 413.9L538.7 417.4L537.1 434.0L532.4 448.3L526.1 455.4L518.3 458.2L513.6 454.2L511.5 451.1L509.3 449.9L505.7 451.6L504.3 452.1L502.9 454.0L501.2 454.2L499.7 452.8L500.2 451.1L499.3 450.2L497.4 448.5L497.2 446.4L499.0 443.8L499.0 439.7L496.8 438.3L494.7 435.5L491.6 435.9L487.8 439.3L485.3 438.1L483.6 440.4L483.4 438.8L482.3 439.0L479.0 438.8L475.9 435.9L472.7 433.3L471.2 433.6L469.9 432.6L467.6 430.5L467.7 428.1L468.0 423.8L466.1 421.0L463.3 419.8L461.6 417.0L461.8 416.5Z" fill="#fbe4d4" stroke="#fbe4d4" stroke-width="0.5" stroke-linejoin="round"/>
<path d="M539.2 410.3L543.2 406.1L545.1 407.0L545.0 405.6L547.6 404.6L549.0 404.6L549.7 407.9L546.2 413.9L545.6 413.6L543.4 414.4L542.0 415.8L539.9 415.5L538.7 413.9L538.7 410.8Z" fill="#cfe9d9" stroke="#cfe9d9" stroke-width="0.5" stroke-linejoin="round"/>
<path d="M539.9 415.5L542.0 415.8L543.4 414.4L545.6 413.6L548.1 415.1L548.1 424.6L541.0 424.6L541.0 417.4Z" fill="#f7c6aa" stroke="#f7c6aa" stroke-width="0.5" stroke-linejoin="round"/>
</g>
<g clip-path="url(#c_africa)">
<rect x="316.0" y="415.7" width="109.4" height="173.0" fill="#90d3b3"/>
<path d="M323.3 439.5L330.3 439.5L330.3 437.1L334.6 435.0L336.1 434.0L338.3 431.7L338.3 430.0L342.0 428.8L341.3 425.7L341.2 423.6L340.5 421.9L340.5 418.6L334.6 418.6L326.7 426.9L326.7 436.4L322.8 437.6Z" fill="#cae7d5" stroke="#cae7d5" stroke-width="0.5" stroke-linejoin="round"/>
<path d="M316.5 454.7L323.6 454.7L323.6 450.6L325.2 449.5L325.2 443.5L330.3 443.5L330.3 439.5L323.3 439.5L320.4 437.6L315.7 448.3Z" fill="#e2e5ef" stroke="#e2e5ef" stroke-width="0.5" stroke-linejoin="round"/>
<path d="M316.5 454.7L323.6 454.7L323.6 450.6L325.2 449.5L325.2 443.5L330.3 443.5L330.3 440.4L336.5 445.9L333.8 446.1L335.2 466.1L335.7 468.4L329.4 468.4L327.2 468.7L325.9 468.2L324.8 470.1L322.8 466.8L321.2 465.8L318.4 466.1L318.1 467.0L315.7 464.9L315.7 455.4Z" fill="#52bca8" stroke="#52bca8" stroke-width="0.5" stroke-linejoin="round"/>
<path d="M318.1 467.0L318.4 466.1L321.2 465.8L322.8 466.8L324.8 470.1L325.5 473.7L326.1 475.8L322.5 475.1L320.4 475.1L317.8 476.0L315.7 474.4L315.7 469.6Z" fill="#94d4b6" stroke="#94d4b6" stroke-width="0.5" stroke-linejoin="round"/>
<path d="M317.8 476.0L320.4 475.1L322.5 475.1L322.5 477.4L320.9 477.9L320.4 479.3L317.3 479.1Z" fill="#6cc4a6" stroke="#6cc4a6" stroke-width="0.5" stroke-linejoin="round"/>
<path d="M324.8 470.1L325.9 468.2L327.2 468.7L329.4 468.4L335.7 468.4L335.2 466.1L333.8 446.1L336.5 445.9L345.9 455.2L346.8 457.0L349.0 458.2L349.2 459.9L350.6 459.9L350.6 465.1L349.5 468.7L346.0 468.9L344.3 469.9L342.9 469.4L340.9 471.5L339.4 472.0L337.7 473.4L337.1 475.6L335.7 477.2L335.4 480.5L334.3 479.8L331.4 481.0L330.8 478.2L329.4 475.8L327.2 476.7L326.1 475.8L325.5 473.7Z" fill="#52bca8" stroke="#52bca8" stroke-width="0.5" stroke-linejoin="round"/>
<path d="M330.3 437.1L330.3 440.4L336.5 445.9L345.9 455.2L346.8 457.0L349.0 458.2L349.2 459.9L350.6 459.9L353.1 458.9L355.8 455.9L362.8 449.5L362.1 447.6L360.0 446.8L358.8 443.1L359.5 441.6L359.4 438.1L359.5 435.2L358.9 433.6L358.1 429.3L357.0 428.1L355.8 425.0L357.0 422.9L356.9 418.6L357.5 417.7L357.5 415.1L340.5 418.6L340.5 421.9L341.2 423.6L341.3 425.7L342.0 428.8L338.3 430.0L338.3 431.7L336.1 434.0L334.6 435.0Z" fill="#f7aa8a" stroke="#f7aa8a" stroke-width="0.5" stroke-linejoin="round"/>
<path d="M357.5 417.7L356.9 418.6L357.0 422.9L355.8 425.0L357.0 428.1L358.1 429.3L358.9 433.6L360.2 429.8L362.1 428.3L362.1 426.4L362.8 424.6L362.8 415.1L357.5 415.1Z" fill="#c6e6d4" stroke="#c6e6d4" stroke-width="0.5" stroke-linejoin="round"/>
<path d="M358.9 433.6L360.2 429.8L362.1 428.3L362.1 426.4L362.8 424.6L383.6 424.6L383.2 430.2L383.2 457.8L381.7 457.8L381.7 458.9L369.1 449.6L367.6 450.6L366.3 451.6L362.8 449.5L362.1 447.6L360.0 446.8L358.8 443.1L359.5 441.6L359.4 438.1L359.5 435.2Z" fill="#f58b66" stroke="#f58b66" stroke-width="0.5" stroke-linejoin="round"/>
<path d="M383.2 426.9L383.2 453.0L402.9 453.0L402.9 426.9Z" fill="#b8e2cb" stroke="#b8e2cb" stroke-width="0.5" stroke-linejoin="round"/>
<path d="M383.2 453.0L383.2 457.8L381.7 457.8L381.7 468.0L380.0 468.4L379.0 471.5L378.7 475.1L380.0 479.3L381.2 482.0L381.5 484.6L382.9 482.0L385.6 482.7L388.0 483.1L389.5 482.2L390.3 481.5L392.7 482.0L394.9 477.4L396.1 476.3L396.0 479.8L397.4 482.7L397.9 480.1L398.8 479.3L400.0 475.3L400.7 475.1L401.3 471.3L402.1 464.9L404.6 462.5L406.8 460.1L404.4 453.0Z" fill="#b4e0c8" stroke="#b4e0c8" stroke-width="0.5" stroke-linejoin="round"/>
<path d="M401.3 471.3L402.1 464.9L404.6 462.5L406.8 462.5L413.1 474.4L411.7 475.1L410.6 475.6L408.1 471.8L405.2 470.6L403.5 469.9Z" fill="#a8dcc2" stroke="#a8dcc2" stroke-width="0.5" stroke-linejoin="round"/>
<path d="M411.4 479.3L411.5 482.4L413.1 483.9L417.8 486.2L419.4 486.2L414.6 493.3L411.5 494.3L409.9 495.5L409.8 495.9L408.4 498.6L408.4 507.1L409.3 509.2L409.9 512.3L425.6 486.2L425.6 474.4L411.5 475.6Z" fill="#3468a6" stroke="#3468a6" stroke-width="0.5" stroke-linejoin="round"/>
<path d="M409.6 479.1L409.6 477.4L410.6 475.6L411.7 475.1L412.8 477.9L411.4 479.3Z" fill="#3aa0aa" stroke="#3aa0aa" stroke-width="0.5" stroke-linejoin="round"/>
<path d="M401.3 471.3L403.5 469.9L405.2 470.6L408.1 471.8L410.6 475.6L409.6 477.4L409.6 479.1L411.4 479.3L411.5 482.4L413.1 483.9L417.8 486.2L419.4 486.2L414.6 493.3L411.5 494.3L409.9 495.5L409.8 495.9L408.1 495.2L406.5 496.2L403.8 496.7L401.9 494.8L400.5 494.8L400.4 494.3L399.1 492.2L397.4 489.1L395.8 486.5L397.5 484.8L397.4 482.7L397.9 480.1L398.8 479.3L400.0 475.3L400.7 475.1Z" fill="#30a8ac" stroke="#30a8ac" stroke-width="0.5" stroke-linejoin="round"/>
<path d="M409.8 495.9L408.1 495.2L406.5 496.2L403.8 496.7L401.9 494.8L400.5 494.8L400.4 494.3L397.4 495.2L398.2 496.9L398.9 501.2L398.2 502.6L397.2 505.0L397.2 507.6L403.2 512.6L403.2 513.5L405.5 516.3L408.4 514.7L410.7 508.8L409.3 509.2L408.4 507.1L408.4 498.6Z" fill="#9ad6b8" stroke="#9ad6b8" stroke-width="0.5" stroke-linejoin="round"/>
<path d="M397.4 495.2L398.2 496.9L398.9 501.2L398.2 502.6L397.2 505.0L397.2 507.6L391.9 507.6L390.5 508.5L390.5 506.6L390.9 503.8L391.4 502.4L393.1 500.0L392.4 499.5L392.5 496.9L394.2 496.7L395.8 495.9Z" fill="#a6dbc0" stroke="#a6dbc0" stroke-width="0.5" stroke-linejoin="round"/>
<path d="M397.2 507.6L403.2 512.6L403.2 513.5L405.5 516.3L407.6 517.1L408.4 530.1L407.4 530.1L404.4 532.0L402.9 533.0L400.2 532.5L398.8 532.7L398.2 528.0L397.2 527.7L395.7 527.5L393.0 525.6L392.4 524.7L390.3 519.4L390.0 515.6L391.1 515.4L392.4 513.0L391.9 510.9L392.4 509.2L391.9 507.6Z" fill="#98d5b7" stroke="#98d5b7" stroke-width="0.5" stroke-linejoin="round"/>
<path d="M389.4 510.9L390.5 508.5L391.9 507.6L392.4 509.2L391.9 510.9L390.9 511.8L389.5 511.8Z" fill="#a4dabe" stroke="#a4dabe" stroke-width="0.5" stroke-linejoin="round"/>
<path d="M389.5 511.8L390.9 511.8L391.9 510.9L392.4 513.0L391.1 515.4L390.0 515.6L389.8 513.0Z" fill="#88d0b0" stroke="#88d0b0" stroke-width="0.5" stroke-linejoin="round"/>
<path d="M363.2 519.2L363.6 517.1L364.4 516.1L366.6 516.8L367.9 515.4L369.1 513.5L369.4 510.4L371.8 506.6L372.1 502.8L372.4 499.7L373.2 496.9L373.2 494.8L374.6 493.1L376.8 494.8L379.3 495.5L380.0 493.8L382.5 493.1L383.7 492.9L387.0 493.1L388.6 495.0L390.3 494.5L392.5 496.9L392.4 499.5L393.1 500.0L391.4 502.4L390.9 503.8L390.5 506.6L390.5 508.5L389.4 510.9L389.5 511.8L389.8 513.0L390.0 515.6L390.3 519.4L392.4 524.7L389.4 525.4L388.6 527.0L389.1 530.6L388.6 533.4L390.3 534.6L390.8 537.0L389.4 537.0L386.7 533.2L384.8 533.4L383.7 531.8L382.3 532.2L381.7 531.1L378.9 531.8L379.0 530.1L378.2 527.7L378.4 522.5L376.2 522.5L375.9 521.8L374.6 521.8L373.8 524.2L371.6 524.4L370.1 519.2L364.4 519.2Z" fill="#38b8ac" stroke="#38b8ac" stroke-width="0.5" stroke-linejoin="round"/>
<path d="M361.4 514.5L362.7 513.5L362.2 510.9L363.6 510.7L364.4 510.9L366.6 509.7L366.8 506.6L365.8 505.2L366.8 501.9L364.9 502.1L364.9 500.0L369.4 500.0L369.9 496.9L373.2 496.9L372.4 499.7L372.1 502.8L371.8 506.6L369.4 510.4L369.1 513.5L367.9 515.4L366.6 516.8L364.4 516.1L363.6 517.1L362.8 517.1L361.3 515.9Z" fill="#48b8a8" stroke="#48b8a8" stroke-width="0.5" stroke-linejoin="round"/>
<path d="M358.6 502.8L361.7 502.8L361.7 500.0L364.9 500.0L364.9 502.1L366.8 501.9L365.8 505.2L366.8 506.6L366.6 509.7L364.4 510.9L363.6 510.7L362.2 510.9L362.7 513.5L361.4 514.5L359.7 514.2L356.6 507.6L357.3 502.8Z" fill="#4ab6a6" stroke="#4ab6a6" stroke-width="0.5" stroke-linejoin="round"/>
<path d="M358.6 502.8L361.7 502.8L361.7 500.0L359.4 499.7L358.1 500.5Z" fill="#3a80a8" stroke="#3a80a8" stroke-width="0.5" stroke-linejoin="round"/>
<path d="M359.4 499.7L361.7 500.0L364.9 500.0L369.4 500.0L368.8 497.8L367.1 494.3L366.8 491.0L367.9 487.6L368.3 487.4L365.8 482.4L368.3 481.7L367.6 479.3L367.4 476.3L366.3 475.6L366.1 474.4L366.3 475.8L365.7 479.1L364.3 482.9L363.2 485.3L362.5 488.6L360.6 488.6L359.4 489.1L357.8 491.4L357.3 494.1L357.0 495.7L358.9 499.3Z" fill="#38b0aa" stroke="#38b0aa" stroke-width="0.5" stroke-linejoin="round"/>
<path d="M348.2 490.3L348.4 483.9L349.7 481.0L349.7 477.4L350.4 473.2L352.6 472.2L354.8 474.4L357.7 474.6L359.7 473.7L363.6 474.1L365.4 472.7L366.1 474.4L366.3 475.8L365.7 479.1L364.3 482.9L363.2 485.3L362.5 488.6L360.6 488.6L359.4 489.1L357.8 491.4L357.3 494.1L357.0 495.7L351.9 496.2L348.2 491.4Z" fill="#3a86a8" stroke="#3a86a8" stroke-width="0.5" stroke-linejoin="round"/>
<path d="M344.3 469.9L346.0 468.9L349.5 468.7L350.6 465.1L350.6 459.9L353.1 458.9L355.8 455.9L362.8 449.5L366.3 451.6L367.6 450.6L367.9 454.2L368.5 458.0L368.3 465.1L365.2 471.0L365.4 472.7L363.6 474.1L359.7 473.7L357.7 474.6L354.8 474.4L352.6 472.2L350.4 473.2L349.7 477.4L348.4 475.8L347.8 476.3L347.3 475.1L345.6 473.4L344.6 472.0Z" fill="#6cc2a6" stroke="#6cc2a6" stroke-width="0.5" stroke-linejoin="round"/>
<path d="M367.6 450.6L369.1 449.6L381.7 458.9L381.7 468.0L380.0 468.4L379.0 471.5L378.7 475.1L380.0 479.3L378.1 480.1L376.0 483.6L373.8 483.9L373.7 484.3L371.8 486.5L370.1 486.9L368.3 487.4L365.8 482.4L368.3 481.7L367.6 479.3L367.4 476.3L366.3 475.6L366.1 474.4L365.4 472.7L365.2 471.0L368.3 465.1L368.5 458.0L367.9 454.2Z" fill="#3a6ca6" stroke="#3a6ca6" stroke-width="0.5" stroke-linejoin="round"/>
<path d="M367.9 487.6L368.3 487.4L370.1 486.9L371.8 486.5L373.7 484.3L373.8 483.9L376.0 483.6L378.1 480.1L380.0 479.3L381.2 482.0L381.5 484.6L382.0 485.5L383.7 487.9L385.4 489.5L385.6 491.0L387.0 493.1L383.7 492.9L382.5 493.1L380.0 493.8L379.3 495.5L376.8 494.8L374.6 493.1L373.2 494.8L373.2 496.9L369.9 496.9L369.4 500.0L368.8 497.8L367.1 494.3L366.8 491.0Z" fill="#3a72a6" stroke="#3a72a6" stroke-width="0.5" stroke-linejoin="round"/>
<path d="M381.5 484.6L382.9 482.0L385.6 482.7L388.0 483.1L389.5 482.2L390.3 481.5L392.7 482.0L394.9 477.4L396.1 476.3L396.0 479.8L397.4 482.7L397.5 484.8L395.8 486.5L397.4 489.1L399.1 492.2L400.4 494.3L397.4 495.2L395.8 495.9L394.2 496.7L392.5 496.9L390.3 494.5L388.6 495.0L387.0 493.1L385.6 491.0L385.4 489.5L383.7 487.9L382.0 485.5Z" fill="#3878a6" stroke="#3878a6" stroke-width="0.5" stroke-linejoin="round"/>
<path d="M320.4 479.3L320.9 477.9L322.5 477.4L322.5 475.1L326.1 475.8L327.2 476.7L329.4 475.8L330.8 478.2L331.4 481.0L331.9 482.9L331.0 485.7L330.7 487.2L329.2 487.6L329.2 485.3L327.8 485.0L327.4 483.1L326.4 481.5L324.4 481.7L323.1 483.9L322.0 483.9L319.7 481.5Z" fill="#3a78a8" stroke="#3a78a8" stroke-width="0.5" stroke-linejoin="round"/>
<path d="M323.1 483.9L324.4 481.7L326.4 481.5L327.4 483.1L327.8 485.0L327.4 486.7L325.9 488.8L323.6 488.6L322.0 485.0Z" fill="#8cd0b2" stroke="#8cd0b2" stroke-width="0.5" stroke-linejoin="round"/>
<path d="M325.9 488.8L327.4 486.7L327.8 485.0L329.2 485.3L329.2 487.6L330.7 487.2L331.0 489.8L332.2 491.4L332.2 494.8L331.4 495.7L325.9 491.0Z" fill="#54bca6" stroke="#54bca6" stroke-width="0.5" stroke-linejoin="round"/>
<path d="M332.2 494.8L332.2 491.4L331.0 489.8L330.7 487.2L331.0 485.7L331.9 482.9L331.4 481.0L334.3 479.8L335.4 480.5L336.6 482.2L339.8 482.7L340.1 485.7L339.0 489.1L339.6 493.1L339.3 494.5L332.2 496.2Z" fill="#74c6a8" stroke="#74c6a8" stroke-width="0.5" stroke-linejoin="round"/>
<path d="M339.6 493.1L339.0 489.1L340.1 485.7L339.8 482.7L339.4 479.1L344.0 478.9L344.8 481.5L344.6 484.3L345.1 487.4L344.8 488.8L345.9 490.7L344.0 493.3L339.6 494.5Z" fill="#a8dcc2" stroke="#a8dcc2" stroke-width="0.5" stroke-linejoin="round"/>
<path d="M335.4 480.5L335.7 477.2L337.1 475.6L337.7 473.4L339.4 472.0L340.9 471.5L342.9 469.4L344.3 469.9L344.6 472.0L345.6 473.4L347.3 475.1L347.8 477.0L346.2 478.2L345.4 479.1L344.0 478.9L339.4 479.1L339.8 482.7L336.6 482.2Z" fill="#98d6b8" stroke="#98d6b8" stroke-width="0.5" stroke-linejoin="round"/>
<path d="M344.0 478.9L345.4 479.1L345.3 480.8L346.5 483.9L346.5 489.8L346.8 490.5L345.9 490.7L344.8 488.8L345.1 487.4L344.6 484.3L344.8 481.5Z" fill="#b4e0c8" stroke="#b4e0c8" stroke-width="0.5" stroke-linejoin="round"/>
<path d="M346.8 490.5L346.5 489.8L346.5 483.9L345.3 480.8L345.4 479.1L346.2 478.2L347.8 477.0L347.8 476.3L348.4 475.8L349.7 477.4L349.7 481.0L348.4 483.9L348.2 490.3L348.2 491.4L346.8 491.4Z" fill="#78c8aa" stroke="#78c8aa" stroke-width="0.5" stroke-linejoin="round"/>
<path d="M363.2 519.2L364.4 519.2L370.1 519.2L371.6 524.4L373.8 524.2L374.6 521.8L375.9 521.8L376.2 522.5L378.4 522.5L378.2 527.7L379.0 530.1L378.9 531.8L381.7 531.1L381.7 536.0L378.5 536.0L378.5 543.6L380.7 546.9L377.6 547.9L373.0 546.5L366.0 546.5L362.5 546.0L360.5 545.5L361.3 528.9L362.1 519.4Z" fill="#3a92aa" stroke="#3a92aa" stroke-width="0.5" stroke-linejoin="round"/>
<path d="M362.8 517.1L363.6 516.1L364.6 516.1L363.6 518.7L363.2 519.2L362.5 518.2Z" fill="#3a92aa" stroke="#3a92aa" stroke-width="0.5" stroke-linejoin="round"/>
<path d="M381.7 531.1L382.3 532.2L383.7 531.8L384.8 533.4L386.7 533.2L389.4 537.0L390.8 537.0L390.3 534.6L388.6 533.4L389.1 530.6L388.6 527.0L389.4 525.4L392.4 524.7L393.0 525.6L395.7 527.5L396.4 530.8L396.3 534.9L395.3 537.5L395.8 538.4L391.4 540.8L391.7 542.2L389.5 542.9L386.4 547.7L383.7 547.4L380.7 546.9L378.5 543.6L378.5 536.0L381.7 536.0Z" fill="#98d6b8" stroke="#98d6b8" stroke-width="0.5" stroke-linejoin="round"/>
<path d="M395.7 527.5L397.2 527.7L398.2 528.0L398.8 532.7L398.2 537.2L400.4 540.5L400.2 543.2L399.3 545.8L398.0 543.2L398.3 541.5L397.9 539.4L395.8 538.4L395.3 537.5L396.3 534.9L396.4 530.8Z" fill="#9cd7ba" stroke="#9cd7ba" stroke-width="0.5" stroke-linejoin="round"/>
<path d="M407.4 530.1L404.4 532.0L402.9 533.0L400.2 532.5L398.8 532.7L398.2 537.2L400.4 540.5L400.2 543.2L399.3 545.8L398.0 543.2L398.3 541.5L397.9 539.4L395.8 538.4L391.4 540.8L391.7 542.2L391.7 543.2L393.1 543.2L395.7 544.8L395.8 546.7L395.5 551.5L395.0 555.7L393.1 558.3L394.2 563.3L394.2 566.4L394.4 568.8L395.7 569.0L397.4 569.2L401.3 562.1L400.5 552.6L409.2 543.2L409.2 528.9Z" fill="#88d0b0" stroke="#88d0b0" stroke-width="0.5" stroke-linejoin="round"/>
<path d="M383.7 547.4L386.4 547.7L389.5 542.9L391.7 542.2L391.7 543.2L393.1 543.2L395.7 544.8L395.8 546.7L395.5 551.5L395.0 555.7L393.1 558.3L390.2 557.9L388.0 556.4L387.5 553.8L385.1 551.5L383.7 549.3Z" fill="#8ed2b2" stroke="#8ed2b2" stroke-width="0.5" stroke-linejoin="round"/>
<path d="M383.7 547.4L383.7 549.3L385.1 551.5L387.5 553.8L388.0 556.4L390.2 557.9L388.4 559.0L386.4 561.2L386.2 562.8L384.7 563.8L384.0 565.9L380.1 565.2L379.5 567.1L376.7 569.0L376.5 564.5L375.4 564.0L375.4 557.4L377.0 557.4L377.0 548.6L380.6 547.9L382.3 547.7Z" fill="#b6e0c9" stroke="#b6e0c9" stroke-width="0.5" stroke-linejoin="round"/>
<path d="M362.5 546.0L366.0 546.5L373.0 546.5L377.6 547.9L380.7 546.9L383.7 547.4L382.3 547.7L380.6 547.9L377.0 548.6L377.0 557.4L375.4 557.4L375.4 564.0L375.4 572.6L373.8 573.8L371.3 573.3L369.9 573.0L367.6 574.0L364.4 559.8L360.5 545.5Z" fill="#94d4b6" stroke="#94d4b6" stroke-width="0.5" stroke-linejoin="round"/>
<path d="M369.9 573.0L371.3 573.3L373.8 573.8L375.4 572.6L375.4 564.0L376.5 564.5L376.7 569.0L379.5 567.1L380.1 565.2L384.0 565.9L384.7 563.8L386.2 562.8L386.4 561.2L388.4 559.0L390.2 557.9L393.1 558.3L394.2 563.3L394.2 566.4L394.4 568.8L395.7 569.0L397.4 569.2L395.8 578.7L388.0 589.4L375.4 590.6L370.7 585.8L367.6 574.0Z" fill="#f47a58" stroke="#f47a58" stroke-width="0.5" stroke-linejoin="round"/>
<path d="M392.7 566.9L394.1 566.6L394.4 568.8L393.1 570.0L392.4 568.5Z" fill="#a8dcc2" stroke="#a8dcc2" stroke-width="0.5" stroke-linejoin="round"/>
<path d="M386.4 575.4L388.7 573.0L390.2 574.9L389.5 576.8L388.0 577.8L386.9 576.8Z" fill="#74c6a8" stroke="#74c6a8" stroke-width="0.5" stroke-linejoin="round"/>
</g>
<path d="M523.0 557.4L522.2 562.1L522.2 566.9L523.3 570.4L524.5 576.4L525.6 581.1L524.5 586.3L526.1 588.2L529.3 588.2L532.4 585.6L535.5 585.8L538.7 583.7L541.8 581.8L545.0 581.1L547.3 580.2L550.0 579.9L552.0 581.1L554.4 583.0L556.4 587.3L557.5 587.7L558.8 585.4L560.3 582.5L560.0 585.8L559.9 588.7L561.4 588.2L561.0 586.3L561.6 589.6L563.0 590.6L563.8 594.1L566.2 596.3L569.3 597.2L571.6 595.3L573.7 597.9L576.4 595.1L579.3 594.1L579.8 590.6L580.8 587.7L581.9 584.2L583.4 581.1L584.2 577.5L585.2 572.8L584.5 569.2L584.5 565.7L582.6 563.3L581.1 560.9L580.3 558.6L578.7 557.4L577.9 553.8L576.0 551.7L573.7 550.0L573.2 546.7L572.4 543.9L572.1 540.5L570.9 538.9L569.6 539.1L569.3 535.6L568.2 532.5L567.7 530.6L566.9 531.3L566.3 535.6L566.3 539.6L565.8 543.6L565.1 546.7L563.0 546.9L560.7 544.6L558.3 542.4L556.7 540.8L557.5 537.7L558.8 534.4L556.7 533.7L553.6 533.0L551.2 531.8L549.7 534.1L548.4 536.5L547.3 540.3L545.4 540.5L544.2 538.4L541.8 538.4L540.2 541.3L538.7 543.9L537.6 546.5L535.9 546.7L535.9 549.1L534.0 551.7L530.8 552.6L527.7 554.3L525.3 556.2Z" fill="#f7be9e"/>
<path d="M571.2 602.0L574.0 602.7L576.8 602.2L576.8 605.3L575.6 607.9L574.0 608.6L572.3 606.7L571.2 603.6Z" fill="#f7be9e"/>
<path d="M615.1 586.8L617.7 588.9L618.8 591.5L620.0 592.5L620.3 594.4L622.7 594.9L624.2 594.6L623.5 597.7L621.9 598.9L621.7 600.8L619.2 603.9L618.4 603.2L618.8 600.8L616.9 598.7L618.1 597.2L618.3 594.1L617.5 591.8L615.6 588.7Z" fill="#f7ae8c"/>
<path d="M615.3 601.3L617.7 604.1L616.1 607.2L615.3 609.1L612.9 610.3L612.2 613.8L610.1 615.7L607.8 615.5L605.4 614.3L607.0 611.5L609.0 609.3L611.7 607.2L613.3 604.3L614.4 602.0Z" fill="#f7ae8c"/>
<g clip-path="url(#c_newguinea)">
<rect x="548.7" y="505.1" width="32.6" height="26.2" fill="#74c8a8"/>
<path d="M565.4 505.2L565.4 528.9L582.6 533.7L582.6 505.2Z" fill="#2c5a9c" stroke="#2c5a9c" stroke-width="0.5" stroke-linejoin="round"/>
</g>
<path d="M576.8 518.5L578.9 518.2L580.8 518.0L582.0 516.8L582.2 515.2L583.1 515.4L583.0 517.5L581.4 519.4L579.5 520.1L577.6 519.9Z" fill="#2c5a9c"/>
<path d="M580.8 511.4L583.4 513.3L584.4 516.3L583.6 515.6L581.4 512.8Z" fill="#2c5a9c"/>
<path d="M586.7 518.0L588.8 520.6L588.3 521.6L586.9 519.4Z" fill="#2c5a9c"/>
<g clip-path="url(#c_borneo)">
<rect x="514.1" y="487.8" width="18.0" height="28.1" fill="#74c8a8"/>
<path d="M515.6 499.3L516.1 501.4L517.5 503.1L519.8 501.6L522.2 499.3L524.5 496.9L526.1 494.8L528.6 495.2L532.4 495.7L532.4 486.2L523.0 491.0L516.7 498.1Z" fill="#f7c6aa" stroke="#f7c6aa" stroke-width="0.5" stroke-linejoin="round"/>
</g>
<path d="M493.6 491.9L496.3 492.9L498.3 495.2L500.7 498.1L502.3 500.0L504.1 502.1L506.2 504.0L506.8 507.1L508.1 509.5L510.4 511.8L510.3 514.7L510.1 519.0L508.2 519.0L506.5 516.6L504.5 514.2L502.6 511.4L501.5 507.6L499.7 504.5L498.8 501.2L497.1 498.6L495.2 495.9Z" fill="#74c8a8"/>
<path d="M509.2 521.3L511.2 519.4L514.3 520.9L517.5 521.3L518.3 520.4L520.8 521.6L523.8 523.5L523.6 525.6L520.6 525.1L516.7 524.4L513.6 523.7L511.0 522.8Z" fill="#74c8a8"/>
<path d="M524.5 524.4L526.9 524.9L529.3 524.7L530.8 525.1L533.2 524.9L536.8 524.7L537.1 525.6L534.0 526.3L530.8 526.1L527.7 526.5L524.9 525.8Z" fill="#74c8a8"/>
<g clip-path="url(#c_timor)">
<rect x="536.9" y="524.1" width="7.5" height="6.5" fill="#74c8a8"/>
<path d="M540.2 524.2L545.0 524.2L545.0 527.7L540.2 527.7Z" fill="#9ad6b8" stroke="#9ad6b8" stroke-width="0.5" stroke-linejoin="round"/>
</g>
<path d="M530.8 527.7L533.7 528.7L532.7 529.6L531.1 528.7Z" fill="#74c8a8"/>
<path d="M532.1 503.3L533.7 502.1L537.1 503.1L540.2 501.4L540.6 502.8L537.9 504.5L534.8 504.0L532.7 505.2L532.4 507.3L534.4 507.6L537.6 507.1L536.8 509.0L535.1 509.7L536.0 512.8L537.4 515.2L536.8 518.0L535.2 516.6L534.8 514.2L533.8 511.8L533.0 514.7L533.0 518.2L531.6 518.2L531.6 514.7L530.5 511.8L531.3 508.8L532.1 505.7Z" fill="#74c8a8"/>
<path d="M544.2 500.5L545.3 501.6L546.1 504.0L545.0 507.1L544.5 504.7L544.0 502.8Z" fill="#74c8a8"/>
<path d="M545.0 512.3L547.3 511.8L549.4 513.0L547.3 513.5L545.0 513.3Z" fill="#74c8a8"/>
<path d="M541.8 512.8L543.7 513.0L543.4 514.2L542.0 513.7Z" fill="#74c8a8"/>
<path d="M533.3 461.3L535.9 461.6L536.0 464.9L534.9 467.7L535.1 471.3L537.1 472.5L538.8 475.3L537.6 474.4L536.3 473.2L534.0 472.7L533.3 470.8L532.4 468.4L532.9 465.8L533.0 463.7Z" fill="#44b4a2"/>
<path d="M535.5 488.6L537.6 485.0L539.8 485.0L541.0 482.0L542.3 485.0L542.6 488.6L541.8 490.3L541.0 491.0L540.7 491.7L539.0 490.3L538.7 487.4L537.4 487.4Z" fill="#44b4a2"/>
<path d="M539.2 475.6L541.0 476.3L541.3 479.1L540.6 481.2L539.8 481.0L539.5 478.4Z" fill="#44b4a2"/>
<path d="M535.5 477.2L537.4 477.9L538.7 479.6L538.2 482.7L537.1 483.4L536.3 481.5L535.5 480.3Z" fill="#44b4a2"/>
<path d="M528.0 485.3L530.0 483.1L531.6 479.6L531.6 478.4L530.5 480.8L528.5 483.9Z" fill="#44b4a2"/>
<path d="M533.0 473.4L534.6 473.4L534.8 475.8L534.0 476.3Z" fill="#44b4a2"/>
<path d="M563.8 406.8L564.3 402.7L566.2 397.5L568.5 400.1L572.1 402.0L571.6 403.2L569.0 405.6L566.6 404.4L565.4 406.1Z" fill="#f7be9e"/>
<path d="M565.8 407.2L566.9 411.5L565.4 414.6L565.4 417.9L564.7 421.5L563.5 422.4L561.4 422.9L559.1 423.1L558.3 424.1L557.2 425.7L556.0 423.4L553.6 423.8L551.2 424.8L549.5 424.6L550.5 422.9L552.5 421.0L556.0 420.8L557.5 419.8L558.8 417.0L559.6 417.9L561.4 416.5L563.0 413.9L563.8 410.8L563.8 408.7Z" fill="#f7be9e"/>
<path d="M548.1 425.7L549.7 424.8L550.9 426.9L550.5 429.8L549.2 431.4L548.4 430.5L548.4 428.1L547.6 426.9Z" fill="#f7be9e"/>
<path d="M552.0 424.8L554.9 423.8L555.3 425.0L554.4 426.2L552.8 427.4L551.9 426.2Z" fill="#f7be9e"/>
<path d="M566.9 376.4L568.2 378.3L569.0 380.7L569.3 385.4L570.9 388.5L568.5 388.5L568.2 392.5L569.3 395.4L567.7 394.9L566.9 396.1L566.9 392.5L567.1 389.0L566.6 384.2L566.6 380.7Z" fill="#c6e5d3"/>
<path d="M534.8 445.4L535.4 447.1L534.4 450.6L533.7 453.0L532.6 450.6L532.9 448.3L534.0 445.9Z" fill="#e2e5ef"/>
<path d="M514.7 459.7L515.9 457.8L518.0 457.8L518.1 458.9L517.2 461.3L515.9 462.0L514.7 461.1Z" fill="#fbe4d4"/>
<path d="M469.4 482.4L470.1 482.7L471.5 485.0L472.4 487.4L472.3 489.8L470.5 491.2L469.6 490.5L469.1 487.4L469.4 485.0Z" fill="#b0dec6"/>
<path d="M421.4 533.7L422.8 538.4L423.1 542.0L422.2 544.3L421.6 547.9L420.1 553.8L419.0 559.3L417.8 564.5L415.4 565.7L413.4 564.5L412.3 560.9L412.0 557.4L413.6 553.8L413.4 550.3L413.1 546.7L413.9 543.6L416.2 542.7L418.3 540.3L419.4 537.7L420.6 534.9Z" fill="#30a6ac"/>
<path d="M335.4 386.4L338.5 385.9L340.9 384.9L344.0 384.7L346.2 383.8L345.3 383.0L346.7 380.4L344.5 379.5L344.2 378.1L343.7 376.6L342.0 375.2L341.5 373.3L340.1 372.4L339.3 371.4L340.5 370.0L341.0 368.6L338.5 368.3L337.6 368.6L339.0 366.4L336.1 366.2L335.4 368.1L334.9 370.0L335.2 371.9L336.0 373.8L336.5 375.2L338.5 375.0L339.3 377.1L339.0 378.8L336.9 378.8L337.2 380.2L337.4 381.4L335.8 382.3L337.7 383.0L339.3 383.3L337.2 384.2Z" fill="#f7bc9e"/>
<path d="M334.3 378.8L334.6 376.6L335.2 375.7L334.1 374.3L332.2 374.0L330.7 375.7L328.3 376.6L328.6 378.5L329.1 380.4L327.8 381.9L328.8 383.0L331.0 382.3L333.8 381.4Z" fill="#f7c0a4"/>
<path d="M305.8 349.6L308.7 347.7L311.0 349.8L314.2 348.4L318.1 347.7L320.9 348.2L322.6 350.5L320.4 352.7L315.7 354.6L311.8 354.3L308.7 353.6L309.5 352.2L306.3 351.3L308.7 350.3Z" fill="#f7a484"/>
<path d="M229.4 319.7L237.2 316.6L241.9 313.5L249.8 311.2L262.4 310.0L273.4 308.8L284.3 307.1L296.9 307.1L306.3 308.8L312.6 311.2L323.6 311.9L325.2 313.1L317.3 315.4L315.0 319.0L314.2 322.6L313.4 326.1L311.8 328.5L309.5 330.9L309.5 334.4L308.7 338.0L304.8 340.3L301.6 342.7L295.3 343.7L290.6 347.5L285.1 349.1L281.2 351.0L279.6 354.6L277.3 358.1L276.5 361.7L274.1 363.1L271.0 361.2L267.9 360.0L266.3 356.9L263.9 353.4L261.6 349.8L260.0 346.3L260.8 342.7L263.9 340.3L258.4 338.0L257.6 334.9L256.1 330.9L252.9 326.6L248.2 324.9L240.4 324.9L235.7 323.7L232.5 321.8Z" fill="#f7ceb6"/>
<path d="M361.3 316.6L367.6 315.4L375.4 314.3L386.4 315.0L381.7 317.1L377.0 319.0L373.0 321.4L370.7 323.3L366.8 321.4L362.8 319.0Z" fill="#f7c2a6" stroke="#f7c2a6" stroke-width="0.6" stroke-linejoin="round"/>
<path d="M424.9 335.6L427.2 337.3L430.4 337.5L434.3 337.5L431.9 334.4L431.1 331.3L435.1 328.5L439.8 326.1L446.1 323.7L451.5 322.8L447.6 325.4L439.0 328.5L433.5 330.9L430.4 333.2L428.0 333.9Z" fill="#c6e5d3" stroke="#c6e5d3" stroke-width="1.4" stroke-linejoin="round"/>
<path d="M416.2 314.3L422.5 313.3L430.4 313.1L438.2 311.9L444.5 313.1L438.2 314.5L428.8 315.0L419.4 315.2Z" fill="#c6e5d3"/>
<path d="M493.1 317.8L497.9 314.3L502.6 316.6L508.9 319.0L505.7 319.7L499.4 319.0Z" fill="#c6e5d3"/>
<path d="M488.4 313.1L494.7 312.6L496.3 314.3L490.0 315.0Z" fill="#c6e5d3"/>
<path d="M559.1 326.1L563.8 324.9L571.6 325.9L579.5 326.8L574.8 327.8L566.9 327.8L560.7 327.8Z" fill="#c6e5d3"/>
<path d="M563.8 330.1L568.5 330.9L567.7 331.6L563.8 331.1Z" fill="#c6e5d3"/>
<path d="M624.2 336.3L628.2 335.6L630.5 336.3L628.2 337.0L625.0 337.0Z" fill="#c6e5d3"/>
<path d="M218.4 330.4L223.1 332.5L227.0 335.1L232.5 336.8L237.2 339.2L238.8 341.5L243.5 345.1L247.4 347.0L244.3 351.0L241.2 355.8L242.3 357.4L239.6 358.4L235.7 356.9L231.7 354.6L228.6 352.2L222.3 352.7L221.5 350.5L227.8 349.1L228.6 345.1L224.7 342.7L220.8 339.2L216.0 339.4L209.0 338.4L204.3 336.8L203.5 333.2L205.8 330.4L211.3 330.6Z" fill="#f7a987" stroke="#f7a987" stroke-width="1.3" stroke-linejoin="round"/>
<path d="M160.3 338.0L165.0 340.8L171.3 342.2L178.4 341.5L183.9 340.3L185.4 338.0L179.9 336.8L179.2 333.2L174.4 331.6L168.2 332.5L161.9 332.0L158.0 333.9Z" fill="#f7a987" stroke="#f7a987" stroke-width="1.3" stroke-linejoin="round"/>
<path d="M146.5 334.4L150.9 336.3L154.8 335.6L157.2 332.5L161.9 330.1L158.7 329.0L152.5 328.7L148.5 330.1Z" fill="#f7a987" stroke="#f7a987" stroke-width="1.3" stroke-linejoin="round"/>
<path d="M202.7 323.7L210.5 322.6L220.0 323.7L223.1 320.2L227.8 317.8L237.2 314.3L246.7 310.0L234.1 308.1L218.4 308.3L205.8 310.0L201.1 311.9L207.4 314.3L209.0 316.6L205.8 319.5Z" fill="#f7a987" stroke="#f7a987" stroke-width="1.3" stroke-linejoin="round"/>
<path d="M193.3 315.4L199.6 312.6L205.1 315.9L201.1 319.0L194.8 317.8Z" fill="#f7a987" stroke="#f7a987" stroke-width="1.3" stroke-linejoin="round"/>
<path d="M193.3 323.0L199.6 323.7L204.3 326.1L212.1 325.4L218.4 328.0L210.5 328.5L199.6 328.0L193.3 326.1Z" fill="#f7a987" stroke="#f7a987" stroke-width="1.3" stroke-linejoin="round"/>
<path d="M194.1 329.7L199.6 329.7L201.9 332.0L196.4 334.4L194.1 332.0Z" fill="#f7a987" stroke="#f7a987" stroke-width="1.3" stroke-linejoin="round"/>
<path d="M183.9 330.9L190.1 330.1L191.7 333.2L188.6 335.6L183.9 333.2Z" fill="#f7a987" stroke="#f7a987" stroke-width="1.3" stroke-linejoin="round"/>
<path d="M160.3 326.1L166.6 324.2L172.9 323.3L178.4 325.4L176.8 327.5L171.3 328.0L165.0 327.8Z" fill="#f7a987" stroke="#f7a987" stroke-width="1.3" stroke-linejoin="round"/>
<path d="M180.7 323.7L187.0 323.3L190.9 325.4L187.0 327.3L182.3 326.6Z" fill="#f7a987" stroke="#f7a987" stroke-width="1.3" stroke-linejoin="round"/>
<path d="M150.9 324.2L157.2 321.6L162.7 323.7L157.2 325.2Z" fill="#f7a987" stroke="#f7a987" stroke-width="1.3" stroke-linejoin="round"/>
<path d="M179.2 319.0L187.0 317.8L193.3 319.7L188.6 321.1L180.7 320.7Z" fill="#f7a987" stroke="#f7a987" stroke-width="1.3" stroke-linejoin="round"/>
<path d="M187.8 341.1L190.9 339.4L194.1 340.8L192.5 342.5L189.4 342.5Z" fill="#f7a987" stroke="#f7a987" stroke-width="1.3" stroke-linejoin="round"/>
<path d="M207.4 349.8L211.3 348.6L216.8 352.9L217.6 354.6L213.7 355.3L209.8 355.8L207.4 353.4Z" fill="#f7a987" stroke="#f7a987" stroke-width="1.3" stroke-linejoin="round"/>
<path d="M250.9 391.8L252.2 387.8L254.5 384.2L256.9 382.8L256.1 385.4L257.6 387.1L260.0 388.3L260.8 391.3L261.3 392.5L260.0 394.7L258.4 393.7L256.1 394.0L253.7 392.3Z" fill="#f7a987"/>
<path d="M142.6 384.7L147.0 386.1L150.1 390.2L147.8 389.7L144.6 387.1Z" fill="#f7a987"/>
<path d="M135.2 377.1L137.2 377.1L138.0 380.7L136.3 380.0Z" fill="#f7a987"/>
<path d="M101.4 368.6L104.6 367.6L105.0 369.3L102.2 370.5Z" fill="#f7c3a5"/>
<path d="M210.5 453.3L213.7 450.6L216.8 450.2L220.0 451.8L223.1 454.0L225.5 456.1L227.5 457.3L226.2 458.0L222.3 458.0L221.5 456.1L219.2 454.2L216.0 452.5L212.9 452.5Z" fill="#d0ecdc"/>
<g clip-path="url(#c_hispaniola)">
<rect x="226.0" y="457.0" width="11.6" height="7.2" fill="#80ccac"/>
<path d="M226.2 464.9L226.2 456.6L231.4 456.6L231.4 458.9L231.0 460.8L231.4 464.9Z" fill="#3a7cae" stroke="#3a7cae" stroke-width="0.5" stroke-linejoin="round"/>
</g>
<path d="M221.1 461.8L223.1 461.3L224.4 462.5L222.6 463.0Z" fill="#d0ecdc"/>
<path d="M238.5 461.3L241.0 461.6L240.9 462.5L238.5 462.5Z" fill="#fbe4d6"/>
<path d="M363.5 415.1L368.5 414.4L367.7 418.1L363.6 416.2Z" fill="#f7c4a6"/>
<path d="M356.9 407.9L359.2 407.7L359.1 412.2L357.3 412.7Z" fill="#f7c4a6"/>
<path d="M357.5 403.4L358.9 403.2L358.8 406.8L357.7 406.5Z" fill="#f8cab0"/>
<path d="M380.9 420.8L385.3 421.5L384.8 422.4L381.1 421.7Z" fill="#fbe6da"/>
<path d="M394.7 421.9L396.6 421.2L398.3 420.5L397.4 422.2L395.8 423.1Z" fill="#f9d6c2"/>
<path d="M99.1 457.3L100.6 458.2L99.9 460.1L99.1 458.7Z" fill="#f7c3a5"/>
<path d="M361.3 372.8L363.8 372.4L363.3 374.7L361.6 374.5Z" fill="#f7bc9c"/>
<path d="M372.4 367.9L373.8 368.1L373.0 370.0Z" fill="#f9d6c4"/>
<path d="M601.5 553.1L605.4 556.2L606.2 558.1L603.8 556.9L601.5 554.3Z" fill="#f7c6aa"/>
<path d="M216.8 330.4L223.1 331.3L224.7 332.5L220.0 333.2L216.8 332.0Z" fill="#f7a987" stroke="#f7a987" stroke-width="1.3" stroke-linejoin="round"/>
<path d="M192.5 326.1L197.2 325.9L197.2 328.0L193.3 327.8Z" fill="#f7a987" stroke="#f7a987" stroke-width="1.3" stroke-linejoin="round"/>
<path d="M165.0 320.2L171.3 318.3L172.9 320.7L168.2 321.8Z" fill="#f7a987" stroke="#f7a987" stroke-width="1.3" stroke-linejoin="round"/>
<path d="M190.1 318.3L194.1 319.0L192.5 320.7L190.1 320.2Z" fill="#f7a987" stroke="#f7a987" stroke-width="1.3" stroke-linejoin="round"/>
<path d="M222.3 343.9L225.5 343.4L225.8 345.6L223.1 345.8Z" fill="#f7a987" stroke="#f7a987" stroke-width="1.3" stroke-linejoin="round"/>
<path d="M213.7 356.0L217.6 356.2L218.4 357.7L214.5 357.7Z" fill="#f7a987" stroke="#f7a987" stroke-width="1.3" stroke-linejoin="round"/>
<path d="M242.7 386.8L246.7 388.0L247.0 388.7L243.5 387.5Z" fill="#f7a987"/>
<path d="M98.0 455.4L99.1 455.6L98.8 456.3Z" fill="#f7c3a5"/>
<path d="M95.6 454.0L96.4 454.2L96.1 454.7Z" fill="#f7c3a5"/>
<path d="M93.3 452.5L93.9 452.5L93.7 453.3Z" fill="#f7c3a5"/>
<path d="M589.7 521.3L591.3 522.5L591.0 523.2L589.5 522.0Z" fill="#a8dcc2"/>
<path d="M592.8 523.2L594.9 524.9L594.6 525.6L592.7 523.9Z" fill="#a8dcc2"/>
<path d="M594.6 527.3L596.5 528.4L596.1 528.9L594.6 528.0Z" fill="#a8dcc2"/>
<path d="M596.3 525.1L597.2 527.5L596.8 527.7L596.0 525.6Z" fill="#a8dcc2"/>
<path d="M597.2 529.6L598.8 530.6L598.3 531.1L597.2 530.3Z" fill="#a8dcc2"/>
<path d="M605.6 540.3L606.5 541.3L606.3 542.9L605.6 542.0Z" fill="#a8dcc2"/>
<path d="M606.7 543.2L607.4 544.1L607.1 544.8L606.5 543.9Z" fill="#a8dcc2"/>
<path d="M608.1 546.7L608.7 547.2L608.4 547.7Z" fill="#a8dcc2"/>
<path d="M609.3 549.6L610.0 550.0L609.6 550.5Z" fill="#a8dcc2"/>
<path d="M622.4 546.5L624.4 546.7L624.2 548.4L622.5 548.1Z" fill="#a8dcc2"/>
<path d="M624.7 544.1L626.6 543.6L626.3 545.0L624.7 545.3Z" fill="#a8dcc2"/>
<path d="M220.9 445.7L221.9 445.7L222.2 447.8L221.2 448.0Z" fill="#d0ecdc"/>
<path d="M220.1 441.9L221.7 441.6L221.7 442.3L220.3 442.3Z" fill="#d0ecdc"/>
<path d="M222.3 441.4L223.1 442.1L223.0 443.8L222.5 443.1Z" fill="#d0ecdc"/>
<path d="M224.2 445.2L224.7 446.4L224.4 446.8L223.9 445.7Z" fill="#d0ecdc"/>
<path d="M225.6 447.8L226.4 449.9L225.9 450.2L225.3 448.3Z" fill="#d0ecdc"/>
<path d="M228.3 455.2L229.4 454.7L229.2 455.6Z" fill="#d0ecdc"/>
<path d="M246.8 479.6L248.4 479.6L248.2 481.2L246.8 481.2Z" fill="#a8dcc1"/>
<path d="M200.3 505.9L201.3 505.9L201.4 507.6L200.5 507.6Z" fill="#84cdab"/>
<path d="M614.8 379.5L616.4 379.5L616.2 380.2L615.0 380.2Z" fill="#f7c3a5"/>
<path d="M622.2 381.6L623.8 381.6L623.6 382.3L622.4 382.3Z" fill="#f7c3a5"/>
<path d="M84.9 376.4L78.7 379.5L70.8 381.4L64.5 382.6" fill="none" stroke="#f7c6aa" stroke-width="0.9" stroke-dasharray="3 1.2"/>
</g>
<path d="M32.5 655V288.5" fill="none" stroke="#949494" stroke-width="1"/>
<path d="M672.5 655V290.4" fill="none" stroke="#989898" stroke-width="1"/>
<path d="M32.0 288.5L673.0 290.4" fill="none" stroke="#a2a2a2" stroke-width="1"/>
<path d="M32.0 655H673.0" fill="none" stroke="#a8a8a8" stroke-width="1"/>
<path d="M28.8 386.6H32.5" stroke="#6e6e6e" stroke-width="1"/>
<text class="t" x="27" y="389.7" text-anchor="end">50</text>
<path d="M28.8 505.2H32.5" stroke="#6e6e6e" stroke-width="1"/>
<text class="t" x="27" y="508.2" text-anchor="end">0</text>
<path d="M28.8 623.8H32.5" stroke="#6e6e6e" stroke-width="1"/>
<text class="t" x="27" y="626.8" text-anchor="end">−50</text>
<path d="M187.0 655v4" stroke="#6e6e6e" stroke-width="1"/>
<text class="l" x="187.0" y="668.5" text-anchor="middle" style="font-size:8.5px">−100</text>
<path d="M344.0 655v4" stroke="#6e6e6e" stroke-width="1"/>
<text class="l" x="344.0" y="668.5" text-anchor="middle" style="font-size:8.5px">0</text>
<path d="M501.0 655v4" stroke="#6e6e6e" stroke-width="1"/>
<text class="l" x="501.0" y="668.5" text-anchor="middle" style="font-size:8.5px">100</text>
<path d="M658.0 655v4" stroke="#6e6e6e" stroke-width="1"/>
<text class="l" x="658.0" y="668.5" text-anchor="middle" style="font-size:8.5px">200</text>
<text class="l" x="349.3" y="682.6" text-anchor="middle" textLength="51" lengthAdjust="spacingAndGlyphs">Longitude (°)</text>
<text class="l" transform="translate(11.4 473.6) rotate(-90)" text-anchor="middle" textLength="41.6" lengthAdjust="spacingAndGlyphs">Latitude (°)</text>
<g id="inset">
<rect x="40.5" y="545" width="160" height="101.7" fill="#fff" stroke="#c4c8dc" stroke-width="1"/>
<path d="M73.2 550.6V620.2H194.2" fill="none" stroke="#6e6e6e" stroke-width="1"/>
<path d="M70 617.5H73.2" stroke="#6e6e6e" stroke-width="1"/>
<text class="t" x="68.6" y="620.5" text-anchor="end">40</text>
<path d="M70 595.9H73.2" stroke="#6e6e6e" stroke-width="1"/>
<text class="t" x="68.6" y="598.9" text-anchor="end">60</text>
<path d="M70 574.3H73.2" stroke="#6e6e6e" stroke-width="1"/>
<text class="t" x="68.6" y="577.3" text-anchor="end">80</text>
<path d="M70 552.6H73.2" stroke="#6e6e6e" stroke-width="1"/>
<text class="t" x="68.6" y="555.7" text-anchor="end">100</text>
<path d="M90.3 620.2v3.2" stroke="#6e6e6e" stroke-width="1"/>
<text class="t" x="90.3" y="631.6" text-anchor="middle">1</text>
<path d="M119.5 620.2v3.2" stroke="#6e6e6e" stroke-width="1"/>
<text class="t" x="119.5" y="631.6" text-anchor="middle">2</text>
<path d="M148.4 620.2v3.2" stroke="#6e6e6e" stroke-width="1"/>
<text class="t" x="148.4" y="631.6" text-anchor="middle">3</text>
<path d="M177.6 620.2v3.2" stroke="#6e6e6e" stroke-width="1"/>
<text class="t" x="177.6" y="631.6" text-anchor="middle">4</text>
<text class="l" x="133.6" y="642.4" text-anchor="middle">Income group</text>
<text class="l" transform="translate(52 585.3) rotate(-90)" text-anchor="middle">Coverage (%)</text>
<path d="M90.3 555.1V561.9M90.3 589.3V615.2" stroke="#2a3a5c" stroke-width="1"/>
<rect x="79.3" y="561.9" width="22" height="27.4" fill="#fff" stroke="#2a3a5c" stroke-width="1"/>
<path d="M79.3 572.2H101.3" stroke="#2a3a5c" stroke-width="2"/>
<path d="M119.5 554.1V558.4M119.5 574.2V597.3" stroke="#2a3a5c" stroke-width="1"/>
<rect x="108.5" y="558.4" width="22" height="15.8" fill="#fff" stroke="#2a3a5c" stroke-width="1"/>
<path d="M108.5 564.6H130.5" stroke="#2a3a5c" stroke-width="2"/>
<circle cx="119.5" cy="604.6" r="1.8" fill="#7f90b4"/>
<circle cx="119.5" cy="608.7" r="1.8" fill="#7f90b4"/>
<circle cx="119.5" cy="617.2" r="1.8" fill="#7f90b4"/>
<path d="M148.4 554.1V556.3M148.4 567.2V579.7" stroke="#2a3a5c" stroke-width="1"/>
<rect x="137.4" y="556.3" width="22" height="10.9" fill="#fff" stroke="#2a3a5c" stroke-width="1"/>
<path d="M137.4 559.9H159.4" stroke="#2a3a5c" stroke-width="2"/>
<circle cx="148.4" cy="583.3" r="1.8" fill="#7f90b4"/>
<circle cx="148.4" cy="606.4" r="1.8" fill="#7f90b4"/>
<path d="M177.6 554.1V555.3M177.6 560.6V566.2" stroke="#2a3a5c" stroke-width="1"/>
<rect x="166.6" y="555.3" width="22" height="5.3" fill="#fff" stroke="#2a3a5c" stroke-width="1"/>
<path d="M166.6 558.1H188.6" stroke="#2a3a5c" stroke-width="2"/>
<circle cx="177.6" cy="570.9" r="1.8" fill="#7f90b4"/>
<circle cx="177.6" cy="586.8" r="1.8" fill="#7f90b4"/>
</g>
</g>
</svg></body></html>
